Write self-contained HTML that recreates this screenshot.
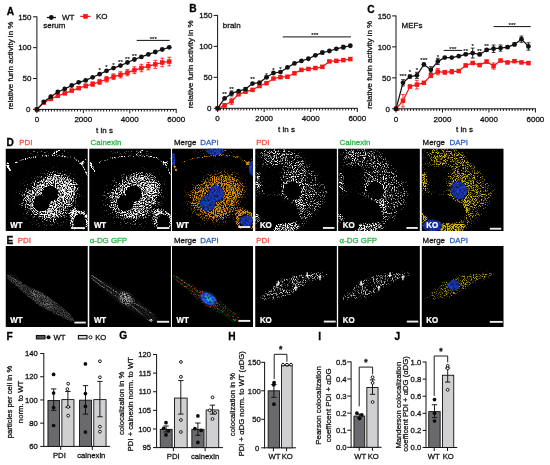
<!DOCTYPE html>
<html><head><meta charset="utf-8"><title>Figure</title>
<style>
html,body{margin:0;padding:0;background:#fff;}
svg{display:block;font-family:"Liberation Sans", Arial, sans-serif;}
</style></head><body>
<svg width="550" height="465" viewBox="0 0 550 465">
<rect width="550" height="465" fill="#fff"/>
<g>
<line x1="36.90" y1="16.40" x2="36.90" y2="109.90" stroke="#111" stroke-width="1"/>
<line x1="36.40" y1="109.40" x2="176.70" y2="109.40" stroke="#111" stroke-width="1"/>
<line x1="33.00" y1="109.40" x2="36.90" y2="109.40" stroke="#111" stroke-width="1"/>
<text x="30.40" y="112.20" font-size="8.0" text-anchor="end" fill="#111" stroke="#111" stroke-width="0.28">0</text>
<line x1="33.00" y1="78.53" x2="36.90" y2="78.53" stroke="#111" stroke-width="1"/>
<text x="31.50" y="81.33" font-size="8.0" text-anchor="end" fill="#111" stroke="#111" stroke-width="0.28">50</text>
<line x1="33.00" y1="47.67" x2="36.90" y2="47.67" stroke="#111" stroke-width="1"/>
<text x="31.50" y="50.47" font-size="8.0" text-anchor="end" fill="#111" stroke="#111" stroke-width="0.28">100</text>
<line x1="33.00" y1="16.80" x2="36.90" y2="16.80" stroke="#111" stroke-width="1"/>
<text x="31.50" y="19.60" font-size="8.0" text-anchor="end" fill="#111" stroke="#111" stroke-width="0.28">150</text>
<line x1="36.90" y1="109.40" x2="36.90" y2="113.10" stroke="#111" stroke-width="1"/>
<text x="36.90" y="122.10" font-size="8.0" text-anchor="middle" fill="#111" stroke="#111" stroke-width="0.28">0</text>
<line x1="39.80" y1="109.40" x2="39.80" y2="111.50" stroke="#111" stroke-width="0.95"/>
<line x1="42.70" y1="109.40" x2="42.70" y2="111.50" stroke="#111" stroke-width="0.95"/>
<line x1="45.61" y1="109.40" x2="45.61" y2="111.50" stroke="#111" stroke-width="0.95"/>
<line x1="48.51" y1="109.40" x2="48.51" y2="111.50" stroke="#111" stroke-width="0.95"/>
<line x1="51.41" y1="109.40" x2="51.41" y2="111.50" stroke="#111" stroke-width="0.95"/>
<line x1="54.31" y1="109.40" x2="54.31" y2="111.50" stroke="#111" stroke-width="0.95"/>
<line x1="57.21" y1="109.40" x2="57.21" y2="111.50" stroke="#111" stroke-width="0.95"/>
<line x1="60.12" y1="109.40" x2="60.12" y2="111.50" stroke="#111" stroke-width="0.95"/>
<line x1="63.02" y1="109.40" x2="63.02" y2="111.50" stroke="#111" stroke-width="0.95"/>
<line x1="65.92" y1="109.40" x2="65.92" y2="111.50" stroke="#111" stroke-width="0.95"/>
<line x1="68.82" y1="109.40" x2="68.82" y2="111.50" stroke="#111" stroke-width="0.95"/>
<line x1="71.72" y1="109.40" x2="71.72" y2="111.50" stroke="#111" stroke-width="0.95"/>
<line x1="74.63" y1="109.40" x2="74.63" y2="111.50" stroke="#111" stroke-width="0.95"/>
<line x1="77.53" y1="109.40" x2="77.53" y2="111.50" stroke="#111" stroke-width="0.95"/>
<line x1="80.43" y1="109.40" x2="80.43" y2="111.50" stroke="#111" stroke-width="0.95"/>
<line x1="83.33" y1="109.40" x2="83.33" y2="113.10" stroke="#111" stroke-width="1"/>
<text x="83.33" y="122.10" font-size="8.0" text-anchor="middle" fill="#111" stroke="#111" stroke-width="0.28">2000</text>
<line x1="86.24" y1="109.40" x2="86.24" y2="111.50" stroke="#111" stroke-width="0.95"/>
<line x1="89.14" y1="109.40" x2="89.14" y2="111.50" stroke="#111" stroke-width="0.95"/>
<line x1="92.04" y1="109.40" x2="92.04" y2="111.50" stroke="#111" stroke-width="0.95"/>
<line x1="94.94" y1="109.40" x2="94.94" y2="111.50" stroke="#111" stroke-width="0.95"/>
<line x1="97.84" y1="109.40" x2="97.84" y2="111.50" stroke="#111" stroke-width="0.95"/>
<line x1="100.75" y1="109.40" x2="100.75" y2="111.50" stroke="#111" stroke-width="0.95"/>
<line x1="103.65" y1="109.40" x2="103.65" y2="111.50" stroke="#111" stroke-width="0.95"/>
<line x1="106.55" y1="109.40" x2="106.55" y2="111.50" stroke="#111" stroke-width="0.95"/>
<line x1="109.45" y1="109.40" x2="109.45" y2="111.50" stroke="#111" stroke-width="0.95"/>
<line x1="112.35" y1="109.40" x2="112.35" y2="111.50" stroke="#111" stroke-width="0.95"/>
<line x1="115.26" y1="109.40" x2="115.26" y2="111.50" stroke="#111" stroke-width="0.95"/>
<line x1="118.16" y1="109.40" x2="118.16" y2="111.50" stroke="#111" stroke-width="0.95"/>
<line x1="121.06" y1="109.40" x2="121.06" y2="111.50" stroke="#111" stroke-width="0.95"/>
<line x1="123.96" y1="109.40" x2="123.96" y2="111.50" stroke="#111" stroke-width="0.95"/>
<line x1="126.86" y1="109.40" x2="126.86" y2="111.50" stroke="#111" stroke-width="0.95"/>
<line x1="129.77" y1="109.40" x2="129.77" y2="113.10" stroke="#111" stroke-width="1"/>
<text x="129.77" y="122.10" font-size="8.0" text-anchor="middle" fill="#111" stroke="#111" stroke-width="0.28">4000</text>
<line x1="132.67" y1="109.40" x2="132.67" y2="111.50" stroke="#111" stroke-width="0.95"/>
<line x1="135.57" y1="109.40" x2="135.57" y2="111.50" stroke="#111" stroke-width="0.95"/>
<line x1="138.47" y1="109.40" x2="138.47" y2="111.50" stroke="#111" stroke-width="0.95"/>
<line x1="141.37" y1="109.40" x2="141.37" y2="111.50" stroke="#111" stroke-width="0.95"/>
<line x1="144.28" y1="109.40" x2="144.28" y2="111.50" stroke="#111" stroke-width="0.95"/>
<line x1="147.18" y1="109.40" x2="147.18" y2="111.50" stroke="#111" stroke-width="0.95"/>
<line x1="150.08" y1="109.40" x2="150.08" y2="111.50" stroke="#111" stroke-width="0.95"/>
<line x1="152.98" y1="109.40" x2="152.98" y2="111.50" stroke="#111" stroke-width="0.95"/>
<line x1="155.89" y1="109.40" x2="155.89" y2="111.50" stroke="#111" stroke-width="0.95"/>
<line x1="158.79" y1="109.40" x2="158.79" y2="111.50" stroke="#111" stroke-width="0.95"/>
<line x1="161.69" y1="109.40" x2="161.69" y2="111.50" stroke="#111" stroke-width="0.95"/>
<line x1="164.59" y1="109.40" x2="164.59" y2="111.50" stroke="#111" stroke-width="0.95"/>
<line x1="167.49" y1="109.40" x2="167.49" y2="111.50" stroke="#111" stroke-width="0.95"/>
<line x1="170.40" y1="109.40" x2="170.40" y2="111.50" stroke="#111" stroke-width="0.95"/>
<line x1="173.30" y1="109.40" x2="173.30" y2="111.50" stroke="#111" stroke-width="0.95"/>
<line x1="176.20" y1="109.40" x2="176.20" y2="113.10" stroke="#111" stroke-width="1"/>
<text x="176.20" y="122.10" font-size="8.0" text-anchor="middle" fill="#111" stroke="#111" stroke-width="0.28">6000</text>
<text x="104.50" y="132.60" font-size="8.0" text-anchor="middle" fill="#111" stroke="#111" stroke-width="0.28">t in s</text>
<text x="12.60" y="65.60" font-size="8.0" text-anchor="middle" fill="#111" stroke="#111" stroke-width="0.28" transform="rotate(-90 12.60 65.60)">relative furin activity in %</text>
<text x="43.20" y="27.50" font-size="8.0" text-anchor="start" fill="#111" stroke="#111" stroke-width="0.28">serum</text>
<polyline points="36.90,109.40 43.86,102.61 50.83,98.91 57.79,95.82 64.76,93.35 71.72,90.57 78.69,88.10 85.66,85.94 92.62,84.09 99.58,81.87 106.55,79.27 113.51,76.68 120.48,74.83 127.44,72.67 134.41,70.20 141.37,68.04 148.34,66.19 155.30,64.33 162.27,62.48 169.23,61.56" fill="none" stroke="#f91616" stroke-width="1.25" stroke-linejoin="round"/>
<line x1="57.79" y1="96.44" x2="57.79" y2="95.20" stroke="#f91616" stroke-width="0.9"/>
<line x1="55.89" y1="96.44" x2="59.69" y2="96.44" stroke="#f91616" stroke-width="0.85"/>
<line x1="55.89" y1="95.20" x2="59.69" y2="95.20" stroke="#f91616" stroke-width="0.85"/>
<line x1="64.76" y1="94.28" x2="64.76" y2="92.42" stroke="#f91616" stroke-width="0.9"/>
<line x1="62.86" y1="94.28" x2="66.66" y2="94.28" stroke="#f91616" stroke-width="0.85"/>
<line x1="62.86" y1="92.42" x2="66.66" y2="92.42" stroke="#f91616" stroke-width="0.85"/>
<line x1="71.72" y1="91.81" x2="71.72" y2="89.34" stroke="#f91616" stroke-width="0.9"/>
<line x1="69.82" y1="91.81" x2="73.62" y2="91.81" stroke="#f91616" stroke-width="0.85"/>
<line x1="69.82" y1="89.34" x2="73.62" y2="89.34" stroke="#f91616" stroke-width="0.85"/>
<line x1="78.69" y1="89.65" x2="78.69" y2="86.56" stroke="#f91616" stroke-width="0.9"/>
<line x1="76.79" y1="89.65" x2="80.59" y2="89.65" stroke="#f91616" stroke-width="0.85"/>
<line x1="76.79" y1="86.56" x2="80.59" y2="86.56" stroke="#f91616" stroke-width="0.85"/>
<line x1="85.66" y1="87.79" x2="85.66" y2="84.09" stroke="#f91616" stroke-width="0.9"/>
<line x1="83.75" y1="87.79" x2="87.56" y2="87.79" stroke="#f91616" stroke-width="0.85"/>
<line x1="83.75" y1="84.09" x2="87.56" y2="84.09" stroke="#f91616" stroke-width="0.85"/>
<line x1="92.62" y1="86.25" x2="92.62" y2="81.93" stroke="#f91616" stroke-width="0.9"/>
<line x1="90.72" y1="86.25" x2="94.52" y2="86.25" stroke="#f91616" stroke-width="0.85"/>
<line x1="90.72" y1="81.93" x2="94.52" y2="81.93" stroke="#f91616" stroke-width="0.85"/>
<line x1="99.58" y1="84.34" x2="99.58" y2="79.40" stroke="#f91616" stroke-width="0.9"/>
<line x1="97.68" y1="84.34" x2="101.48" y2="84.34" stroke="#f91616" stroke-width="0.85"/>
<line x1="97.68" y1="79.40" x2="101.48" y2="79.40" stroke="#f91616" stroke-width="0.85"/>
<line x1="106.55" y1="82.05" x2="106.55" y2="76.50" stroke="#f91616" stroke-width="0.9"/>
<line x1="104.65" y1="82.05" x2="108.45" y2="82.05" stroke="#f91616" stroke-width="0.85"/>
<line x1="104.65" y1="76.50" x2="108.45" y2="76.50" stroke="#f91616" stroke-width="0.85"/>
<line x1="113.51" y1="79.46" x2="113.51" y2="73.90" stroke="#f91616" stroke-width="0.9"/>
<line x1="111.61" y1="79.46" x2="115.41" y2="79.46" stroke="#f91616" stroke-width="0.85"/>
<line x1="111.61" y1="73.90" x2="115.41" y2="73.90" stroke="#f91616" stroke-width="0.85"/>
<line x1="120.48" y1="77.92" x2="120.48" y2="71.74" stroke="#f91616" stroke-width="0.9"/>
<line x1="118.58" y1="77.92" x2="122.38" y2="77.92" stroke="#f91616" stroke-width="0.85"/>
<line x1="118.58" y1="71.74" x2="122.38" y2="71.74" stroke="#f91616" stroke-width="0.85"/>
<line x1="127.44" y1="75.76" x2="127.44" y2="69.58" stroke="#f91616" stroke-width="0.9"/>
<line x1="125.54" y1="75.76" x2="129.34" y2="75.76" stroke="#f91616" stroke-width="0.85"/>
<line x1="125.54" y1="69.58" x2="129.34" y2="69.58" stroke="#f91616" stroke-width="0.85"/>
<line x1="134.41" y1="73.59" x2="134.41" y2="66.80" stroke="#f91616" stroke-width="0.9"/>
<line x1="132.51" y1="73.59" x2="136.31" y2="73.59" stroke="#f91616" stroke-width="0.85"/>
<line x1="132.51" y1="66.80" x2="136.31" y2="66.80" stroke="#f91616" stroke-width="0.85"/>
<line x1="141.37" y1="71.74" x2="141.37" y2="64.33" stroke="#f91616" stroke-width="0.9"/>
<line x1="139.47" y1="71.74" x2="143.27" y2="71.74" stroke="#f91616" stroke-width="0.85"/>
<line x1="139.47" y1="64.33" x2="143.27" y2="64.33" stroke="#f91616" stroke-width="0.85"/>
<line x1="148.34" y1="69.89" x2="148.34" y2="62.48" stroke="#f91616" stroke-width="0.9"/>
<line x1="146.44" y1="69.89" x2="150.24" y2="69.89" stroke="#f91616" stroke-width="0.85"/>
<line x1="146.44" y1="62.48" x2="150.24" y2="62.48" stroke="#f91616" stroke-width="0.85"/>
<line x1="155.30" y1="68.35" x2="155.30" y2="60.32" stroke="#f91616" stroke-width="0.9"/>
<line x1="153.40" y1="68.35" x2="157.20" y2="68.35" stroke="#f91616" stroke-width="0.85"/>
<line x1="153.40" y1="60.32" x2="157.20" y2="60.32" stroke="#f91616" stroke-width="0.85"/>
<line x1="162.27" y1="66.80" x2="162.27" y2="58.16" stroke="#f91616" stroke-width="0.9"/>
<line x1="160.37" y1="66.80" x2="164.17" y2="66.80" stroke="#f91616" stroke-width="0.85"/>
<line x1="160.37" y1="58.16" x2="164.17" y2="58.16" stroke="#f91616" stroke-width="0.85"/>
<line x1="169.23" y1="65.88" x2="169.23" y2="57.24" stroke="#f91616" stroke-width="0.9"/>
<line x1="167.33" y1="65.88" x2="171.13" y2="65.88" stroke="#f91616" stroke-width="0.85"/>
<line x1="167.33" y1="57.24" x2="171.13" y2="57.24" stroke="#f91616" stroke-width="0.85"/>
<rect x="34.65" y="107.15" width="4.5" height="4.5" fill="#f91616"/>
<rect x="41.61" y="100.36" width="4.5" height="4.5" fill="#f91616"/>
<rect x="48.58" y="96.66" width="4.5" height="4.5" fill="#f91616"/>
<rect x="55.54" y="93.57" width="4.5" height="4.5" fill="#f91616"/>
<rect x="62.51" y="91.10" width="4.5" height="4.5" fill="#f91616"/>
<rect x="69.47" y="88.32" width="4.5" height="4.5" fill="#f91616"/>
<rect x="76.44" y="85.85" width="4.5" height="4.5" fill="#f91616"/>
<rect x="83.41" y="83.69" width="4.5" height="4.5" fill="#f91616"/>
<rect x="90.37" y="81.84" width="4.5" height="4.5" fill="#f91616"/>
<rect x="97.33" y="79.62" width="4.5" height="4.5" fill="#f91616"/>
<rect x="104.30" y="77.02" width="4.5" height="4.5" fill="#f91616"/>
<rect x="111.26" y="74.43" width="4.5" height="4.5" fill="#f91616"/>
<rect x="118.23" y="72.58" width="4.5" height="4.5" fill="#f91616"/>
<rect x="125.19" y="70.42" width="4.5" height="4.5" fill="#f91616"/>
<rect x="132.16" y="67.95" width="4.5" height="4.5" fill="#f91616"/>
<rect x="139.12" y="65.79" width="4.5" height="4.5" fill="#f91616"/>
<rect x="146.09" y="63.94" width="4.5" height="4.5" fill="#f91616"/>
<rect x="153.05" y="62.08" width="4.5" height="4.5" fill="#f91616"/>
<rect x="160.02" y="60.23" width="4.5" height="4.5" fill="#f91616"/>
<rect x="166.98" y="59.31" width="4.5" height="4.5" fill="#f91616"/>
<polyline points="36.90,109.40 43.86,101.87 50.83,96.68 57.79,91.99 64.76,88.90 71.72,85.51 78.69,82.36 85.66,80.39 92.62,77.30 99.58,74.21 106.55,70.82 113.51,68.04 120.48,65.57 127.44,62.48 134.41,59.52 141.37,56.93 148.34,54.46 155.30,51.99 162.27,49.52 169.23,47.36" fill="none" stroke="#111" stroke-width="1.25" stroke-linejoin="round"/>
<circle cx="36.90" cy="109.40" r="2.4" fill="#111"/>
<circle cx="43.86" cy="101.87" r="2.4" fill="#111"/>
<circle cx="50.83" cy="96.68" r="2.4" fill="#111"/>
<circle cx="57.79" cy="91.99" r="2.4" fill="#111"/>
<circle cx="64.76" cy="88.90" r="2.4" fill="#111"/>
<circle cx="71.72" cy="85.51" r="2.4" fill="#111"/>
<circle cx="78.69" cy="82.36" r="2.4" fill="#111"/>
<circle cx="85.66" cy="80.39" r="2.4" fill="#111"/>
<circle cx="92.62" cy="77.30" r="2.4" fill="#111"/>
<circle cx="99.58" cy="74.21" r="2.4" fill="#111"/>
<circle cx="106.55" cy="70.82" r="2.4" fill="#111"/>
<circle cx="113.51" cy="68.04" r="2.4" fill="#111"/>
<circle cx="120.48" cy="65.57" r="2.4" fill="#111"/>
<circle cx="127.44" cy="62.48" r="2.4" fill="#111"/>
<circle cx="134.41" cy="59.52" r="2.4" fill="#111"/>
<circle cx="141.37" cy="56.93" r="2.4" fill="#111"/>
<circle cx="148.34" cy="54.46" r="2.4" fill="#111"/>
<circle cx="155.30" cy="51.99" r="2.4" fill="#111"/>
<circle cx="162.27" cy="49.52" r="2.4" fill="#111"/>
<circle cx="169.23" cy="47.36" r="2.4" fill="#111"/>
<text x="99.58" y="72.47" font-size="6.1" text-anchor="middle" fill="#111" stroke="#111" stroke-width="0.15">*</text>
<text x="106.55" y="69.39" font-size="6.1" text-anchor="middle" fill="#111" stroke="#111" stroke-width="0.15">*</text>
<text x="113.51" y="66.92" font-size="6.1" text-anchor="middle" fill="#111" stroke="#111" stroke-width="0.15">*</text>
<text x="120.48" y="63.83" font-size="6.1" text-anchor="middle" fill="#111" stroke="#111" stroke-width="0.15">**</text>
<text x="127.44" y="60.74" font-size="6.1" text-anchor="middle" fill="#111" stroke="#111" stroke-width="0.15">**</text>
<text x="134.41" y="58.27" font-size="6.1" text-anchor="middle" fill="#111" stroke="#111" stroke-width="0.15">**</text>
<line x1="136.73" y1="40.40" x2="169.70" y2="40.40" stroke="#111" stroke-width="1"/>
<text x="153.22" y="40.50" font-size="6.1" text-anchor="middle" fill="#111" stroke="#111" stroke-width="0.15">***</text>
</g>
<line x1="46.80" y1="17.50" x2="56.00" y2="17.50" stroke="#111" stroke-width="1.25"/>
<circle cx="51.3" cy="17.5" r="2.4" fill="#111"/>
<text x="62.00" y="20.40" font-size="8.0" text-anchor="start" fill="#111" stroke="#111" stroke-width="0.28">WT</text>
<line x1="80.30" y1="16.40" x2="90.50" y2="16.40" stroke="#f91616" stroke-width="1.25"/>
<rect x="83.2" y="14.1" width="4.6" height="4.6" fill="#f91616"/>
<text x="96.00" y="19.00" font-size="8.0" text-anchor="start" fill="#111" stroke="#111" stroke-width="0.28">KO</text>
<g>
<line x1="217.60" y1="15.00" x2="217.60" y2="108.80" stroke="#111" stroke-width="1"/>
<line x1="217.10" y1="108.30" x2="357.80" y2="108.30" stroke="#111" stroke-width="1"/>
<line x1="213.70" y1="108.30" x2="217.60" y2="108.30" stroke="#111" stroke-width="1"/>
<text x="211.40" y="111.10" font-size="8.0" text-anchor="end" fill="#111" stroke="#111" stroke-width="0.28">0</text>
<line x1="213.70" y1="77.33" x2="217.60" y2="77.33" stroke="#111" stroke-width="1"/>
<text x="212.50" y="80.13" font-size="8.0" text-anchor="end" fill="#111" stroke="#111" stroke-width="0.28">50</text>
<line x1="213.70" y1="46.37" x2="217.60" y2="46.37" stroke="#111" stroke-width="1"/>
<text x="212.50" y="49.17" font-size="8.0" text-anchor="end" fill="#111" stroke="#111" stroke-width="0.28">100</text>
<line x1="213.70" y1="15.40" x2="217.60" y2="15.40" stroke="#111" stroke-width="1"/>
<text x="212.50" y="18.20" font-size="8.0" text-anchor="end" fill="#111" stroke="#111" stroke-width="0.28">150</text>
<line x1="217.60" y1="108.30" x2="217.60" y2="112.00" stroke="#111" stroke-width="1"/>
<text x="217.60" y="121.00" font-size="8.0" text-anchor="middle" fill="#111" stroke="#111" stroke-width="0.28">0</text>
<line x1="220.51" y1="108.30" x2="220.51" y2="110.40" stroke="#111" stroke-width="0.95"/>
<line x1="223.42" y1="108.30" x2="223.42" y2="110.40" stroke="#111" stroke-width="0.95"/>
<line x1="226.33" y1="108.30" x2="226.33" y2="110.40" stroke="#111" stroke-width="0.95"/>
<line x1="229.24" y1="108.30" x2="229.24" y2="110.40" stroke="#111" stroke-width="0.95"/>
<line x1="232.15" y1="108.30" x2="232.15" y2="110.40" stroke="#111" stroke-width="0.95"/>
<line x1="235.06" y1="108.30" x2="235.06" y2="110.40" stroke="#111" stroke-width="0.95"/>
<line x1="237.97" y1="108.30" x2="237.97" y2="110.40" stroke="#111" stroke-width="0.95"/>
<line x1="240.88" y1="108.30" x2="240.88" y2="110.40" stroke="#111" stroke-width="0.95"/>
<line x1="243.79" y1="108.30" x2="243.79" y2="110.40" stroke="#111" stroke-width="0.95"/>
<line x1="246.70" y1="108.30" x2="246.70" y2="110.40" stroke="#111" stroke-width="0.95"/>
<line x1="249.61" y1="108.30" x2="249.61" y2="110.40" stroke="#111" stroke-width="0.95"/>
<line x1="252.53" y1="108.30" x2="252.53" y2="110.40" stroke="#111" stroke-width="0.95"/>
<line x1="255.44" y1="108.30" x2="255.44" y2="110.40" stroke="#111" stroke-width="0.95"/>
<line x1="258.35" y1="108.30" x2="258.35" y2="110.40" stroke="#111" stroke-width="0.95"/>
<line x1="261.26" y1="108.30" x2="261.26" y2="110.40" stroke="#111" stroke-width="0.95"/>
<line x1="264.17" y1="108.30" x2="264.17" y2="112.00" stroke="#111" stroke-width="1"/>
<text x="264.17" y="121.00" font-size="8.0" text-anchor="middle" fill="#111" stroke="#111" stroke-width="0.28">2000</text>
<line x1="267.08" y1="108.30" x2="267.08" y2="110.40" stroke="#111" stroke-width="0.95"/>
<line x1="269.99" y1="108.30" x2="269.99" y2="110.40" stroke="#111" stroke-width="0.95"/>
<line x1="272.90" y1="108.30" x2="272.90" y2="110.40" stroke="#111" stroke-width="0.95"/>
<line x1="275.81" y1="108.30" x2="275.81" y2="110.40" stroke="#111" stroke-width="0.95"/>
<line x1="278.72" y1="108.30" x2="278.72" y2="110.40" stroke="#111" stroke-width="0.95"/>
<line x1="281.63" y1="108.30" x2="281.63" y2="110.40" stroke="#111" stroke-width="0.95"/>
<line x1="284.54" y1="108.30" x2="284.54" y2="110.40" stroke="#111" stroke-width="0.95"/>
<line x1="287.45" y1="108.30" x2="287.45" y2="110.40" stroke="#111" stroke-width="0.95"/>
<line x1="290.36" y1="108.30" x2="290.36" y2="110.40" stroke="#111" stroke-width="0.95"/>
<line x1="293.27" y1="108.30" x2="293.27" y2="110.40" stroke="#111" stroke-width="0.95"/>
<line x1="296.18" y1="108.30" x2="296.18" y2="110.40" stroke="#111" stroke-width="0.95"/>
<line x1="299.09" y1="108.30" x2="299.09" y2="110.40" stroke="#111" stroke-width="0.95"/>
<line x1="302.00" y1="108.30" x2="302.00" y2="110.40" stroke="#111" stroke-width="0.95"/>
<line x1="304.91" y1="108.30" x2="304.91" y2="110.40" stroke="#111" stroke-width="0.95"/>
<line x1="307.82" y1="108.30" x2="307.82" y2="110.40" stroke="#111" stroke-width="0.95"/>
<line x1="310.73" y1="108.30" x2="310.73" y2="112.00" stroke="#111" stroke-width="1"/>
<text x="310.73" y="121.00" font-size="8.0" text-anchor="middle" fill="#111" stroke="#111" stroke-width="0.28">4000</text>
<line x1="313.64" y1="108.30" x2="313.64" y2="110.40" stroke="#111" stroke-width="0.95"/>
<line x1="316.55" y1="108.30" x2="316.55" y2="110.40" stroke="#111" stroke-width="0.95"/>
<line x1="319.46" y1="108.30" x2="319.46" y2="110.40" stroke="#111" stroke-width="0.95"/>
<line x1="322.38" y1="108.30" x2="322.38" y2="110.40" stroke="#111" stroke-width="0.95"/>
<line x1="325.29" y1="108.30" x2="325.29" y2="110.40" stroke="#111" stroke-width="0.95"/>
<line x1="328.20" y1="108.30" x2="328.20" y2="110.40" stroke="#111" stroke-width="0.95"/>
<line x1="331.11" y1="108.30" x2="331.11" y2="110.40" stroke="#111" stroke-width="0.95"/>
<line x1="334.02" y1="108.30" x2="334.02" y2="110.40" stroke="#111" stroke-width="0.95"/>
<line x1="336.93" y1="108.30" x2="336.93" y2="110.40" stroke="#111" stroke-width="0.95"/>
<line x1="339.84" y1="108.30" x2="339.84" y2="110.40" stroke="#111" stroke-width="0.95"/>
<line x1="342.75" y1="108.30" x2="342.75" y2="110.40" stroke="#111" stroke-width="0.95"/>
<line x1="345.66" y1="108.30" x2="345.66" y2="110.40" stroke="#111" stroke-width="0.95"/>
<line x1="348.57" y1="108.30" x2="348.57" y2="110.40" stroke="#111" stroke-width="0.95"/>
<line x1="351.48" y1="108.30" x2="351.48" y2="110.40" stroke="#111" stroke-width="0.95"/>
<line x1="354.39" y1="108.30" x2="354.39" y2="110.40" stroke="#111" stroke-width="0.95"/>
<line x1="357.30" y1="108.30" x2="357.30" y2="112.00" stroke="#111" stroke-width="1"/>
<text x="357.30" y="121.00" font-size="8.0" text-anchor="middle" fill="#111" stroke="#111" stroke-width="0.28">6000</text>
<text x="286.50" y="131.50" font-size="8.0" text-anchor="middle" fill="#111" stroke="#111" stroke-width="0.28">t in s</text>
<text x="193.30" y="64.35" font-size="8.0" text-anchor="middle" fill="#111" stroke="#111" stroke-width="0.28" transform="rotate(-90 193.30 64.35)">relative furin activity in %</text>
<text x="222.80" y="27.50" font-size="8.0" text-anchor="start" fill="#111" stroke="#111" stroke-width="0.28">brain</text>
<polyline points="217.60,108.30 224.59,105.45 231.57,101.30 238.56,94.30 245.54,91.70 252.53,89.91 259.51,86.00 266.50,83.16 273.48,78.57 280.47,77.21 287.45,76.71 294.44,73.31 301.42,69.90 308.40,68.97 315.39,68.04 322.38,66.80 329.36,61.42 336.35,60.86 343.33,60.12 350.32,59.06" fill="none" stroke="#f91616" stroke-width="1.25" stroke-linejoin="round"/>
<line x1="224.59" y1="107.31" x2="224.59" y2="103.59" stroke="#f91616" stroke-width="0.9"/>
<line x1="222.69" y1="107.31" x2="226.49" y2="107.31" stroke="#f91616" stroke-width="0.85"/>
<line x1="222.69" y1="103.59" x2="226.49" y2="103.59" stroke="#f91616" stroke-width="0.85"/>
<line x1="231.57" y1="104.40" x2="231.57" y2="98.20" stroke="#f91616" stroke-width="0.9"/>
<line x1="229.67" y1="104.40" x2="233.47" y2="104.40" stroke="#f91616" stroke-width="0.85"/>
<line x1="229.67" y1="98.20" x2="233.47" y2="98.20" stroke="#f91616" stroke-width="0.85"/>
<rect x="215.35" y="106.05" width="4.5" height="4.5" fill="#f91616"/>
<rect x="222.34" y="103.20" width="4.5" height="4.5" fill="#f91616"/>
<rect x="229.32" y="99.05" width="4.5" height="4.5" fill="#f91616"/>
<rect x="236.31" y="92.05" width="4.5" height="4.5" fill="#f91616"/>
<rect x="243.29" y="89.45" width="4.5" height="4.5" fill="#f91616"/>
<rect x="250.28" y="87.66" width="4.5" height="4.5" fill="#f91616"/>
<rect x="257.26" y="83.75" width="4.5" height="4.5" fill="#f91616"/>
<rect x="264.25" y="80.91" width="4.5" height="4.5" fill="#f91616"/>
<rect x="271.23" y="76.32" width="4.5" height="4.5" fill="#f91616"/>
<rect x="278.22" y="74.96" width="4.5" height="4.5" fill="#f91616"/>
<rect x="285.20" y="74.46" width="4.5" height="4.5" fill="#f91616"/>
<rect x="292.19" y="71.06" width="4.5" height="4.5" fill="#f91616"/>
<rect x="299.17" y="67.65" width="4.5" height="4.5" fill="#f91616"/>
<rect x="306.15" y="66.72" width="4.5" height="4.5" fill="#f91616"/>
<rect x="313.14" y="65.79" width="4.5" height="4.5" fill="#f91616"/>
<rect x="320.12" y="64.55" width="4.5" height="4.5" fill="#f91616"/>
<rect x="327.11" y="59.17" width="4.5" height="4.5" fill="#f91616"/>
<rect x="334.10" y="58.61" width="4.5" height="4.5" fill="#f91616"/>
<rect x="341.08" y="57.87" width="4.5" height="4.5" fill="#f91616"/>
<rect x="348.07" y="56.81" width="4.5" height="4.5" fill="#f91616"/>
<polyline points="217.60,108.30 224.59,98.39 231.57,93.44 238.56,91.21 245.54,89.10 252.53,83.53 259.51,82.66 266.50,77.33 273.48,73.00 280.47,72.07 287.45,67.42 294.44,63.40 301.42,60.92 308.40,58.75 315.39,55.35 322.38,52.56 329.36,51.01 336.35,48.84 343.33,47.17 350.32,45.75" fill="none" stroke="#111" stroke-width="1.25" stroke-linejoin="round"/>
<line x1="231.57" y1="95.91" x2="231.57" y2="90.96" stroke="#111" stroke-width="0.9"/>
<line x1="229.67" y1="95.91" x2="233.47" y2="95.91" stroke="#111" stroke-width="0.85"/>
<line x1="229.67" y1="90.96" x2="233.47" y2="90.96" stroke="#111" stroke-width="0.85"/>
<line x1="245.54" y1="90.65" x2="245.54" y2="87.55" stroke="#111" stroke-width="0.9"/>
<line x1="243.64" y1="90.65" x2="247.44" y2="90.65" stroke="#111" stroke-width="0.85"/>
<line x1="243.64" y1="87.55" x2="247.44" y2="87.55" stroke="#111" stroke-width="0.85"/>
<line x1="266.50" y1="78.57" x2="266.50" y2="76.09" stroke="#111" stroke-width="0.9"/>
<line x1="264.60" y1="78.57" x2="268.39" y2="78.57" stroke="#111" stroke-width="0.85"/>
<line x1="264.60" y1="76.09" x2="268.39" y2="76.09" stroke="#111" stroke-width="0.85"/>
<line x1="322.38" y1="54.11" x2="322.38" y2="51.01" stroke="#111" stroke-width="0.9"/>
<line x1="320.48" y1="54.11" x2="324.27" y2="54.11" stroke="#111" stroke-width="0.85"/>
<line x1="320.48" y1="51.01" x2="324.27" y2="51.01" stroke="#111" stroke-width="0.85"/>
<line x1="343.33" y1="49.03" x2="343.33" y2="45.31" stroke="#111" stroke-width="0.9"/>
<line x1="341.43" y1="49.03" x2="345.23" y2="49.03" stroke="#111" stroke-width="0.85"/>
<line x1="341.43" y1="45.31" x2="345.23" y2="45.31" stroke="#111" stroke-width="0.85"/>
<circle cx="217.60" cy="108.30" r="2.4" fill="#111"/>
<circle cx="224.59" cy="98.39" r="2.4" fill="#111"/>
<circle cx="231.57" cy="93.44" r="2.4" fill="#111"/>
<circle cx="238.56" cy="91.21" r="2.4" fill="#111"/>
<circle cx="245.54" cy="89.10" r="2.4" fill="#111"/>
<circle cx="252.53" cy="83.53" r="2.4" fill="#111"/>
<circle cx="259.51" cy="82.66" r="2.4" fill="#111"/>
<circle cx="266.50" cy="77.33" r="2.4" fill="#111"/>
<circle cx="273.48" cy="73.00" r="2.4" fill="#111"/>
<circle cx="280.47" cy="72.07" r="2.4" fill="#111"/>
<circle cx="287.45" cy="67.42" r="2.4" fill="#111"/>
<circle cx="294.44" cy="63.40" r="2.4" fill="#111"/>
<circle cx="301.42" cy="60.92" r="2.4" fill="#111"/>
<circle cx="308.40" cy="58.75" r="2.4" fill="#111"/>
<circle cx="315.39" cy="55.35" r="2.4" fill="#111"/>
<circle cx="322.38" cy="52.56" r="2.4" fill="#111"/>
<circle cx="329.36" cy="51.01" r="2.4" fill="#111"/>
<circle cx="336.35" cy="48.84" r="2.4" fill="#111"/>
<circle cx="343.33" cy="47.17" r="2.4" fill="#111"/>
<circle cx="350.32" cy="45.75" r="2.4" fill="#111"/>
<text x="224.59" y="95.83" font-size="6.1" text-anchor="middle" fill="#111" stroke="#111" stroke-width="0.15">**</text>
<text x="231.57" y="91.06" font-size="6.1" text-anchor="middle" fill="#111" stroke="#111" stroke-width="0.15">**</text>
<text x="252.53" y="81.15" font-size="6.1" text-anchor="middle" fill="#111" stroke="#111" stroke-width="0.15">**</text>
<text x="266.50" y="76.82" font-size="6.1" text-anchor="middle" fill="#111" stroke="#111" stroke-width="0.15">*</text>
<text x="273.48" y="71.74" font-size="6.1" text-anchor="middle" fill="#111" stroke="#111" stroke-width="0.15">*</text>
<text x="280.47" y="70.75" font-size="6.1" text-anchor="middle" fill="#111" stroke="#111" stroke-width="0.15">*</text>
<line x1="282.79" y1="36.90" x2="351.01" y2="36.90" stroke="#111" stroke-width="1"/>
<text x="314.90" y="37.00" font-size="6.1" text-anchor="middle" fill="#111" stroke="#111" stroke-width="0.15">***</text>
</g>
<g>
<line x1="396.00" y1="15.50" x2="396.00" y2="109.30" stroke="#111" stroke-width="1"/>
<line x1="395.50" y1="108.80" x2="535.90" y2="108.80" stroke="#111" stroke-width="1"/>
<line x1="392.10" y1="108.80" x2="396.00" y2="108.80" stroke="#111" stroke-width="1"/>
<text x="389.90" y="111.60" font-size="8.0" text-anchor="end" fill="#111" stroke="#111" stroke-width="0.28">0</text>
<line x1="392.10" y1="77.83" x2="396.00" y2="77.83" stroke="#111" stroke-width="1"/>
<text x="391.00" y="80.63" font-size="8.0" text-anchor="end" fill="#111" stroke="#111" stroke-width="0.28">50</text>
<line x1="392.10" y1="46.87" x2="396.00" y2="46.87" stroke="#111" stroke-width="1"/>
<text x="391.00" y="49.67" font-size="8.0" text-anchor="end" fill="#111" stroke="#111" stroke-width="0.28">100</text>
<line x1="392.10" y1="15.90" x2="396.00" y2="15.90" stroke="#111" stroke-width="1"/>
<text x="391.00" y="18.70" font-size="8.0" text-anchor="end" fill="#111" stroke="#111" stroke-width="0.28">150</text>
<line x1="396.00" y1="108.80" x2="396.00" y2="112.50" stroke="#111" stroke-width="1"/>
<text x="396.00" y="121.50" font-size="8.0" text-anchor="middle" fill="#111" stroke="#111" stroke-width="0.28">0</text>
<line x1="398.90" y1="108.80" x2="398.90" y2="110.90" stroke="#111" stroke-width="0.95"/>
<line x1="401.81" y1="108.80" x2="401.81" y2="110.90" stroke="#111" stroke-width="0.95"/>
<line x1="404.71" y1="108.80" x2="404.71" y2="110.90" stroke="#111" stroke-width="0.95"/>
<line x1="407.62" y1="108.80" x2="407.62" y2="110.90" stroke="#111" stroke-width="0.95"/>
<line x1="410.52" y1="108.80" x2="410.52" y2="110.90" stroke="#111" stroke-width="0.95"/>
<line x1="413.43" y1="108.80" x2="413.43" y2="110.90" stroke="#111" stroke-width="0.95"/>
<line x1="416.33" y1="108.80" x2="416.33" y2="110.90" stroke="#111" stroke-width="0.95"/>
<line x1="419.23" y1="108.80" x2="419.23" y2="110.90" stroke="#111" stroke-width="0.95"/>
<line x1="422.14" y1="108.80" x2="422.14" y2="110.90" stroke="#111" stroke-width="0.95"/>
<line x1="425.04" y1="108.80" x2="425.04" y2="110.90" stroke="#111" stroke-width="0.95"/>
<line x1="427.95" y1="108.80" x2="427.95" y2="110.90" stroke="#111" stroke-width="0.95"/>
<line x1="430.85" y1="108.80" x2="430.85" y2="110.90" stroke="#111" stroke-width="0.95"/>
<line x1="433.75" y1="108.80" x2="433.75" y2="110.90" stroke="#111" stroke-width="0.95"/>
<line x1="436.66" y1="108.80" x2="436.66" y2="110.90" stroke="#111" stroke-width="0.95"/>
<line x1="439.56" y1="108.80" x2="439.56" y2="110.90" stroke="#111" stroke-width="0.95"/>
<line x1="442.47" y1="108.80" x2="442.47" y2="112.50" stroke="#111" stroke-width="1"/>
<text x="442.47" y="121.50" font-size="8.0" text-anchor="middle" fill="#111" stroke="#111" stroke-width="0.28">2000</text>
<line x1="445.37" y1="108.80" x2="445.37" y2="110.90" stroke="#111" stroke-width="0.95"/>
<line x1="448.27" y1="108.80" x2="448.27" y2="110.90" stroke="#111" stroke-width="0.95"/>
<line x1="451.18" y1="108.80" x2="451.18" y2="110.90" stroke="#111" stroke-width="0.95"/>
<line x1="454.08" y1="108.80" x2="454.08" y2="110.90" stroke="#111" stroke-width="0.95"/>
<line x1="456.99" y1="108.80" x2="456.99" y2="110.90" stroke="#111" stroke-width="0.95"/>
<line x1="459.89" y1="108.80" x2="459.89" y2="110.90" stroke="#111" stroke-width="0.95"/>
<line x1="462.80" y1="108.80" x2="462.80" y2="110.90" stroke="#111" stroke-width="0.95"/>
<line x1="465.70" y1="108.80" x2="465.70" y2="110.90" stroke="#111" stroke-width="0.95"/>
<line x1="468.60" y1="108.80" x2="468.60" y2="110.90" stroke="#111" stroke-width="0.95"/>
<line x1="471.51" y1="108.80" x2="471.51" y2="110.90" stroke="#111" stroke-width="0.95"/>
<line x1="474.41" y1="108.80" x2="474.41" y2="110.90" stroke="#111" stroke-width="0.95"/>
<line x1="477.32" y1="108.80" x2="477.32" y2="110.90" stroke="#111" stroke-width="0.95"/>
<line x1="480.22" y1="108.80" x2="480.22" y2="110.90" stroke="#111" stroke-width="0.95"/>
<line x1="483.12" y1="108.80" x2="483.12" y2="110.90" stroke="#111" stroke-width="0.95"/>
<line x1="486.03" y1="108.80" x2="486.03" y2="110.90" stroke="#111" stroke-width="0.95"/>
<line x1="488.93" y1="108.80" x2="488.93" y2="112.50" stroke="#111" stroke-width="1"/>
<text x="488.93" y="121.50" font-size="8.0" text-anchor="middle" fill="#111" stroke="#111" stroke-width="0.28">4000</text>
<line x1="491.84" y1="108.80" x2="491.84" y2="110.90" stroke="#111" stroke-width="0.95"/>
<line x1="494.74" y1="108.80" x2="494.74" y2="110.90" stroke="#111" stroke-width="0.95"/>
<line x1="497.65" y1="108.80" x2="497.65" y2="110.90" stroke="#111" stroke-width="0.95"/>
<line x1="500.55" y1="108.80" x2="500.55" y2="110.90" stroke="#111" stroke-width="0.95"/>
<line x1="503.45" y1="108.80" x2="503.45" y2="110.90" stroke="#111" stroke-width="0.95"/>
<line x1="506.36" y1="108.80" x2="506.36" y2="110.90" stroke="#111" stroke-width="0.95"/>
<line x1="509.26" y1="108.80" x2="509.26" y2="110.90" stroke="#111" stroke-width="0.95"/>
<line x1="512.17" y1="108.80" x2="512.17" y2="110.90" stroke="#111" stroke-width="0.95"/>
<line x1="515.07" y1="108.80" x2="515.07" y2="110.90" stroke="#111" stroke-width="0.95"/>
<line x1="517.97" y1="108.80" x2="517.97" y2="110.90" stroke="#111" stroke-width="0.95"/>
<line x1="520.88" y1="108.80" x2="520.88" y2="110.90" stroke="#111" stroke-width="0.95"/>
<line x1="523.78" y1="108.80" x2="523.78" y2="110.90" stroke="#111" stroke-width="0.95"/>
<line x1="526.69" y1="108.80" x2="526.69" y2="110.90" stroke="#111" stroke-width="0.95"/>
<line x1="529.59" y1="108.80" x2="529.59" y2="110.90" stroke="#111" stroke-width="0.95"/>
<line x1="532.50" y1="108.80" x2="532.50" y2="110.90" stroke="#111" stroke-width="0.95"/>
<line x1="535.40" y1="108.80" x2="535.40" y2="112.50" stroke="#111" stroke-width="1"/>
<text x="535.40" y="121.50" font-size="8.0" text-anchor="middle" fill="#111" stroke="#111" stroke-width="0.28">6000</text>
<text x="464.50" y="132.00" font-size="8.0" text-anchor="middle" fill="#111" stroke="#111" stroke-width="0.28">t in s</text>
<text x="371.80" y="64.85" font-size="8.0" text-anchor="middle" fill="#111" stroke="#111" stroke-width="0.28" transform="rotate(-90 371.80 64.85)">relative furin activity in %</text>
<text x="401.60" y="27.50" font-size="8.0" text-anchor="start" fill="#111" stroke="#111" stroke-width="0.28">MEFs</text>
<polyline points="396.00,108.80 402.97,100.75 409.94,86.50 416.91,84.65 423.88,82.79 430.85,75.67 437.82,71.64 444.79,72.26 451.76,71.64 458.73,71.02 465.70,65.45 472.67,62.97 479.64,65.08 486.61,61.61 493.58,66.07 500.55,60.55 507.52,62.47 514.49,61.17 521.46,62.41 528.43,63.09" fill="none" stroke="#f91616" stroke-width="1.25" stroke-linejoin="round"/>
<line x1="402.97" y1="106.94" x2="402.97" y2="94.56" stroke="#f91616" stroke-width="0.9"/>
<line x1="401.07" y1="106.94" x2="404.87" y2="106.94" stroke="#f91616" stroke-width="0.85"/>
<line x1="401.07" y1="94.56" x2="404.87" y2="94.56" stroke="#f91616" stroke-width="0.85"/>
<line x1="409.94" y1="87.74" x2="409.94" y2="85.27" stroke="#f91616" stroke-width="0.9"/>
<line x1="408.04" y1="87.74" x2="411.84" y2="87.74" stroke="#f91616" stroke-width="0.85"/>
<line x1="408.04" y1="85.27" x2="411.84" y2="85.27" stroke="#f91616" stroke-width="0.85"/>
<line x1="416.91" y1="88.98" x2="416.91" y2="80.31" stroke="#f91616" stroke-width="0.9"/>
<line x1="415.01" y1="88.98" x2="418.81" y2="88.98" stroke="#f91616" stroke-width="0.85"/>
<line x1="415.01" y1="80.31" x2="418.81" y2="80.31" stroke="#f91616" stroke-width="0.85"/>
<line x1="423.88" y1="84.03" x2="423.88" y2="81.55" stroke="#f91616" stroke-width="0.9"/>
<line x1="421.98" y1="84.03" x2="425.78" y2="84.03" stroke="#f91616" stroke-width="0.85"/>
<line x1="421.98" y1="81.55" x2="425.78" y2="81.55" stroke="#f91616" stroke-width="0.85"/>
<line x1="430.85" y1="77.52" x2="430.85" y2="73.81" stroke="#f91616" stroke-width="0.9"/>
<line x1="428.95" y1="77.52" x2="432.75" y2="77.52" stroke="#f91616" stroke-width="0.85"/>
<line x1="428.95" y1="73.81" x2="432.75" y2="73.81" stroke="#f91616" stroke-width="0.85"/>
<line x1="437.82" y1="74.74" x2="437.82" y2="68.54" stroke="#f91616" stroke-width="0.9"/>
<line x1="435.92" y1="74.74" x2="439.72" y2="74.74" stroke="#f91616" stroke-width="0.85"/>
<line x1="435.92" y1="68.54" x2="439.72" y2="68.54" stroke="#f91616" stroke-width="0.85"/>
<line x1="444.79" y1="74.12" x2="444.79" y2="70.40" stroke="#f91616" stroke-width="0.9"/>
<line x1="442.89" y1="74.12" x2="446.69" y2="74.12" stroke="#f91616" stroke-width="0.85"/>
<line x1="442.89" y1="70.40" x2="446.69" y2="70.40" stroke="#f91616" stroke-width="0.85"/>
<line x1="451.76" y1="73.81" x2="451.76" y2="69.47" stroke="#f91616" stroke-width="0.9"/>
<line x1="449.86" y1="73.81" x2="453.66" y2="73.81" stroke="#f91616" stroke-width="0.85"/>
<line x1="449.86" y1="69.47" x2="453.66" y2="69.47" stroke="#f91616" stroke-width="0.85"/>
<line x1="458.73" y1="72.26" x2="458.73" y2="69.78" stroke="#f91616" stroke-width="0.9"/>
<line x1="456.83" y1="72.26" x2="460.63" y2="72.26" stroke="#f91616" stroke-width="0.85"/>
<line x1="456.83" y1="69.78" x2="460.63" y2="69.78" stroke="#f91616" stroke-width="0.85"/>
<line x1="465.70" y1="66.69" x2="465.70" y2="64.21" stroke="#f91616" stroke-width="0.9"/>
<line x1="463.80" y1="66.69" x2="467.60" y2="66.69" stroke="#f91616" stroke-width="0.85"/>
<line x1="463.80" y1="64.21" x2="467.60" y2="64.21" stroke="#f91616" stroke-width="0.85"/>
<line x1="472.67" y1="64.21" x2="472.67" y2="61.73" stroke="#f91616" stroke-width="0.9"/>
<line x1="470.77" y1="64.21" x2="474.57" y2="64.21" stroke="#f91616" stroke-width="0.85"/>
<line x1="470.77" y1="61.73" x2="474.57" y2="61.73" stroke="#f91616" stroke-width="0.85"/>
<line x1="479.64" y1="66.31" x2="479.64" y2="63.84" stroke="#f91616" stroke-width="0.9"/>
<line x1="477.74" y1="66.31" x2="481.54" y2="66.31" stroke="#f91616" stroke-width="0.85"/>
<line x1="477.74" y1="63.84" x2="481.54" y2="63.84" stroke="#f91616" stroke-width="0.85"/>
<line x1="486.61" y1="63.16" x2="486.61" y2="60.06" stroke="#f91616" stroke-width="0.9"/>
<line x1="484.71" y1="63.16" x2="488.51" y2="63.16" stroke="#f91616" stroke-width="0.85"/>
<line x1="484.71" y1="60.06" x2="488.51" y2="60.06" stroke="#f91616" stroke-width="0.85"/>
<line x1="493.58" y1="69.16" x2="493.58" y2="62.97" stroke="#f91616" stroke-width="0.9"/>
<line x1="491.68" y1="69.16" x2="495.48" y2="69.16" stroke="#f91616" stroke-width="0.85"/>
<line x1="491.68" y1="62.97" x2="495.48" y2="62.97" stroke="#f91616" stroke-width="0.85"/>
<line x1="500.55" y1="61.79" x2="500.55" y2="59.32" stroke="#f91616" stroke-width="0.9"/>
<line x1="498.65" y1="61.79" x2="502.45" y2="61.79" stroke="#f91616" stroke-width="0.85"/>
<line x1="498.65" y1="59.32" x2="502.45" y2="59.32" stroke="#f91616" stroke-width="0.85"/>
<line x1="507.52" y1="63.71" x2="507.52" y2="61.24" stroke="#f91616" stroke-width="0.9"/>
<line x1="505.62" y1="63.71" x2="509.42" y2="63.71" stroke="#f91616" stroke-width="0.85"/>
<line x1="505.62" y1="61.24" x2="509.42" y2="61.24" stroke="#f91616" stroke-width="0.85"/>
<line x1="514.49" y1="62.41" x2="514.49" y2="59.93" stroke="#f91616" stroke-width="0.9"/>
<line x1="512.59" y1="62.41" x2="516.39" y2="62.41" stroke="#f91616" stroke-width="0.85"/>
<line x1="512.59" y1="59.93" x2="516.39" y2="59.93" stroke="#f91616" stroke-width="0.85"/>
<line x1="521.46" y1="63.65" x2="521.46" y2="61.17" stroke="#f91616" stroke-width="0.9"/>
<line x1="519.56" y1="63.65" x2="523.36" y2="63.65" stroke="#f91616" stroke-width="0.85"/>
<line x1="519.56" y1="61.17" x2="523.36" y2="61.17" stroke="#f91616" stroke-width="0.85"/>
<line x1="528.43" y1="64.33" x2="528.43" y2="61.85" stroke="#f91616" stroke-width="0.9"/>
<line x1="526.53" y1="64.33" x2="530.33" y2="64.33" stroke="#f91616" stroke-width="0.85"/>
<line x1="526.53" y1="61.85" x2="530.33" y2="61.85" stroke="#f91616" stroke-width="0.85"/>
<rect x="393.75" y="106.55" width="4.5" height="4.5" fill="#f91616"/>
<rect x="400.72" y="98.50" width="4.5" height="4.5" fill="#f91616"/>
<rect x="407.69" y="84.25" width="4.5" height="4.5" fill="#f91616"/>
<rect x="414.66" y="82.40" width="4.5" height="4.5" fill="#f91616"/>
<rect x="421.63" y="80.54" width="4.5" height="4.5" fill="#f91616"/>
<rect x="428.60" y="73.42" width="4.5" height="4.5" fill="#f91616"/>
<rect x="435.57" y="69.39" width="4.5" height="4.5" fill="#f91616"/>
<rect x="442.54" y="70.01" width="4.5" height="4.5" fill="#f91616"/>
<rect x="449.51" y="69.39" width="4.5" height="4.5" fill="#f91616"/>
<rect x="456.48" y="68.77" width="4.5" height="4.5" fill="#f91616"/>
<rect x="463.45" y="63.20" width="4.5" height="4.5" fill="#f91616"/>
<rect x="470.42" y="60.72" width="4.5" height="4.5" fill="#f91616"/>
<rect x="477.39" y="62.83" width="4.5" height="4.5" fill="#f91616"/>
<rect x="484.36" y="59.36" width="4.5" height="4.5" fill="#f91616"/>
<rect x="491.33" y="63.82" width="4.5" height="4.5" fill="#f91616"/>
<rect x="498.30" y="58.30" width="4.5" height="4.5" fill="#f91616"/>
<rect x="505.27" y="60.22" width="4.5" height="4.5" fill="#f91616"/>
<rect x="512.24" y="58.92" width="4.5" height="4.5" fill="#f91616"/>
<rect x="519.21" y="60.16" width="4.5" height="4.5" fill="#f91616"/>
<rect x="526.18" y="60.84" width="4.5" height="4.5" fill="#f91616"/>
<polyline points="396.00,108.80 402.97,82.79 409.94,76.59 416.91,75.36 423.88,64.52 430.85,69.78 437.82,61.42 444.79,57.58 451.76,57.58 458.73,56.16 465.70,54.30 472.67,53.06 479.64,54.42 486.61,49.96 493.58,48.72 500.55,48.11 507.52,47.18 514.49,44.39 521.46,39.19 528.43,46.43" fill="none" stroke="#111" stroke-width="1.25" stroke-linejoin="round"/>
<line x1="402.97" y1="85.88" x2="402.97" y2="79.69" stroke="#111" stroke-width="0.9"/>
<line x1="401.07" y1="85.88" x2="404.87" y2="85.88" stroke="#111" stroke-width="0.85"/>
<line x1="401.07" y1="79.69" x2="404.87" y2="79.69" stroke="#111" stroke-width="0.85"/>
<line x1="409.94" y1="78.14" x2="409.94" y2="75.05" stroke="#111" stroke-width="0.9"/>
<line x1="408.04" y1="78.14" x2="411.84" y2="78.14" stroke="#111" stroke-width="0.85"/>
<line x1="408.04" y1="75.05" x2="411.84" y2="75.05" stroke="#111" stroke-width="0.85"/>
<line x1="416.91" y1="78.45" x2="416.91" y2="72.26" stroke="#111" stroke-width="0.9"/>
<line x1="415.01" y1="78.45" x2="418.81" y2="78.45" stroke="#111" stroke-width="0.85"/>
<line x1="415.01" y1="72.26" x2="418.81" y2="72.26" stroke="#111" stroke-width="0.85"/>
<line x1="430.85" y1="72.88" x2="430.85" y2="66.69" stroke="#111" stroke-width="0.9"/>
<line x1="428.95" y1="72.88" x2="432.75" y2="72.88" stroke="#111" stroke-width="0.85"/>
<line x1="428.95" y1="66.69" x2="432.75" y2="66.69" stroke="#111" stroke-width="0.85"/>
<line x1="437.82" y1="64.52" x2="437.82" y2="58.32" stroke="#111" stroke-width="0.9"/>
<line x1="435.92" y1="64.52" x2="439.72" y2="64.52" stroke="#111" stroke-width="0.85"/>
<line x1="435.92" y1="58.32" x2="439.72" y2="58.32" stroke="#111" stroke-width="0.85"/>
<line x1="465.70" y1="55.54" x2="465.70" y2="53.06" stroke="#111" stroke-width="0.9"/>
<line x1="463.80" y1="55.54" x2="467.60" y2="55.54" stroke="#111" stroke-width="0.85"/>
<line x1="463.80" y1="53.06" x2="467.60" y2="53.06" stroke="#111" stroke-width="0.85"/>
<line x1="472.67" y1="58.01" x2="472.67" y2="48.11" stroke="#111" stroke-width="0.9"/>
<line x1="470.77" y1="58.01" x2="474.57" y2="58.01" stroke="#111" stroke-width="0.85"/>
<line x1="470.77" y1="48.11" x2="474.57" y2="48.11" stroke="#111" stroke-width="0.85"/>
<line x1="479.64" y1="55.66" x2="479.64" y2="53.18" stroke="#111" stroke-width="0.9"/>
<line x1="477.74" y1="55.66" x2="481.54" y2="55.66" stroke="#111" stroke-width="0.85"/>
<line x1="477.74" y1="53.18" x2="481.54" y2="53.18" stroke="#111" stroke-width="0.85"/>
<line x1="486.61" y1="51.20" x2="486.61" y2="48.72" stroke="#111" stroke-width="0.9"/>
<line x1="484.71" y1="51.20" x2="488.51" y2="51.20" stroke="#111" stroke-width="0.85"/>
<line x1="484.71" y1="48.72" x2="488.51" y2="48.72" stroke="#111" stroke-width="0.85"/>
<line x1="493.58" y1="52.44" x2="493.58" y2="45.01" stroke="#111" stroke-width="0.9"/>
<line x1="491.68" y1="52.44" x2="495.48" y2="52.44" stroke="#111" stroke-width="0.85"/>
<line x1="491.68" y1="45.01" x2="495.48" y2="45.01" stroke="#111" stroke-width="0.85"/>
<line x1="500.55" y1="51.20" x2="500.55" y2="45.01" stroke="#111" stroke-width="0.9"/>
<line x1="498.65" y1="51.20" x2="502.45" y2="51.20" stroke="#111" stroke-width="0.85"/>
<line x1="498.65" y1="45.01" x2="502.45" y2="45.01" stroke="#111" stroke-width="0.85"/>
<line x1="507.52" y1="48.41" x2="507.52" y2="45.94" stroke="#111" stroke-width="0.9"/>
<line x1="505.62" y1="48.41" x2="509.42" y2="48.41" stroke="#111" stroke-width="0.85"/>
<line x1="505.62" y1="45.94" x2="509.42" y2="45.94" stroke="#111" stroke-width="0.85"/>
<line x1="514.49" y1="45.94" x2="514.49" y2="42.84" stroke="#111" stroke-width="0.9"/>
<line x1="512.59" y1="45.94" x2="516.39" y2="45.94" stroke="#111" stroke-width="0.85"/>
<line x1="512.59" y1="42.84" x2="516.39" y2="42.84" stroke="#111" stroke-width="0.85"/>
<line x1="521.46" y1="42.28" x2="521.46" y2="36.09" stroke="#111" stroke-width="0.9"/>
<line x1="519.56" y1="42.28" x2="523.36" y2="42.28" stroke="#111" stroke-width="0.85"/>
<line x1="519.56" y1="36.09" x2="523.36" y2="36.09" stroke="#111" stroke-width="0.85"/>
<line x1="528.43" y1="50.15" x2="528.43" y2="42.72" stroke="#111" stroke-width="0.9"/>
<line x1="526.53" y1="50.15" x2="530.33" y2="50.15" stroke="#111" stroke-width="0.85"/>
<line x1="526.53" y1="42.72" x2="530.33" y2="42.72" stroke="#111" stroke-width="0.85"/>
<circle cx="396.00" cy="108.80" r="2.4" fill="#111"/>
<circle cx="402.97" cy="82.79" r="2.4" fill="#111"/>
<circle cx="409.94" cy="76.59" r="2.4" fill="#111"/>
<circle cx="416.91" cy="75.36" r="2.4" fill="#111"/>
<circle cx="423.88" cy="64.52" r="2.4" fill="#111"/>
<circle cx="430.85" cy="69.78" r="2.4" fill="#111"/>
<circle cx="437.82" cy="61.42" r="2.4" fill="#111"/>
<circle cx="444.79" cy="57.58" r="2.4" fill="#111"/>
<circle cx="451.76" cy="57.58" r="2.4" fill="#111"/>
<circle cx="458.73" cy="56.16" r="2.4" fill="#111"/>
<circle cx="465.70" cy="54.30" r="2.4" fill="#111"/>
<circle cx="472.67" cy="53.06" r="2.4" fill="#111"/>
<circle cx="479.64" cy="54.42" r="2.4" fill="#111"/>
<circle cx="486.61" cy="49.96" r="2.4" fill="#111"/>
<circle cx="493.58" cy="48.72" r="2.4" fill="#111"/>
<circle cx="500.55" cy="48.11" r="2.4" fill="#111"/>
<circle cx="507.52" cy="47.18" r="2.4" fill="#111"/>
<circle cx="514.49" cy="44.39" r="2.4" fill="#111"/>
<circle cx="521.46" cy="39.19" r="2.4" fill="#111"/>
<circle cx="528.43" cy="46.43" r="2.4" fill="#111"/>
<text x="402.97" y="78.25" font-size="6.1" text-anchor="middle" fill="#111" stroke="#111" stroke-width="0.15">***</text>
<text x="409.94" y="74.22" font-size="6.1" text-anchor="middle" fill="#111" stroke="#111" stroke-width="0.15">*</text>
<text x="416.91" y="72.36" font-size="6.1" text-anchor="middle" fill="#111" stroke="#111" stroke-width="0.15">*</text>
<text x="423.88" y="62.14" font-size="6.1" text-anchor="middle" fill="#111" stroke="#111" stroke-width="0.15">***</text>
<text x="437.82" y="58.74" font-size="6.1" text-anchor="middle" fill="#111" stroke="#111" stroke-width="0.15">*</text>
<text x="465.70" y="52.85" font-size="6.1" text-anchor="middle" fill="#111" stroke="#111" stroke-width="0.15">**</text>
<text x="472.67" y="47.59" font-size="6.1" text-anchor="middle" fill="#111" stroke="#111" stroke-width="0.15">*</text>
<text x="479.64" y="52.85" font-size="6.1" text-anchor="middle" fill="#111" stroke="#111" stroke-width="0.15">**</text>
<text x="486.61" y="48.33" font-size="6.1" text-anchor="middle" fill="#111" stroke="#111" stroke-width="0.15">**</text>
<line x1="443.63" y1="50.40" x2="462.21" y2="50.40" stroke="#111" stroke-width="1"/>
<text x="452.92" y="50.50" font-size="6.1" text-anchor="middle" fill="#111" stroke="#111" stroke-width="0.15">***</text>
<line x1="493.58" y1="26.60" x2="530.75" y2="26.60" stroke="#111" stroke-width="1"/>
<text x="512.17" y="26.70" font-size="6.1" text-anchor="middle" fill="#111" stroke="#111" stroke-width="0.15">***</text>
</g>
<text x="6.80" y="14.50" font-size="10.2" text-anchor="start" font-weight="bold" fill="#000" stroke="#000" stroke-width="0.3">A</text>
<text x="189.30" y="12.30" font-size="10.2" text-anchor="start" font-weight="bold" fill="#000" stroke="#000" stroke-width="0.3">B</text>
<text x="367.20" y="12.50" font-size="10.2" text-anchor="start" font-weight="bold" fill="#000" stroke="#000" stroke-width="0.3">C</text>
<defs>
<filter id="b1" x="-50%" y="-50%" width="200%" height="200%"><feGaussianBlur stdDeviation="1"/></filter>
<filter id="b2" x="-50%" y="-50%" width="200%" height="200%"><feGaussianBlur stdDeviation="2.2"/></filter>
<filter id="b4" x="-50%" y="-50%" width="200%" height="200%"><feGaussianBlur stdDeviation="4"/></filter>
<filter id="b05" x="-50%" y="-50%" width="200%" height="200%"><feGaussianBlur stdDeviation="0.5"/></filter>
<filter id="nuc" x="-5%" y="-5%" width="110%" height="110%" color-interpolation-filters="sRGB"><feTurbulence type="fractalNoise" baseFrequency="0.45" numOctaves="2" seed="9" result="n"/><feColorMatrix in="n" type="matrix" values="2.2 0 0 0 -0.6  2.2 0 0 0 -0.6  2.2 0 0 0 -0.6  0 0 0 0 1" result="ng"/><feComposite in="SourceGraphic" in2="ng" operator="arithmetic" k1="0.9" k2="0.6" k3="0" k4="0"/></filter>
</defs>
<clipPath id="cl1"><rect x="5.80" y="148.80" width="81.80" height="82.20"/></clipPath>
<filter id="sp1" filterUnits="userSpaceOnUse" x="5.80" y="148.80" width="81.80" height="82.20" color-interpolation-filters="sRGB"><feTurbulence type="fractalNoise" baseFrequency="0.9" numOctaves="2" seed="3" result="n"/><feColorMatrix in="n" type="matrix" values="2.5 0 0 0 -0.75  2.5 0 0 0 -0.75  2.5 0 0 0 -0.75  0 0 0 0 1" result="ng"/><feComposite in="SourceGraphic" in2="ng" operator="arithmetic" k1="0" k2="2.0" k3="2.0" k4="-2.0" result="t"/><feColorMatrix in="t" type="matrix" values="1 0 0 0 0  1 0 0 0 0  1 0 0 0 0  0 0 0 0 1" result="c"/><feGaussianBlur in="c" stdDeviation="0.4"/></filter>
<g clip-path="url(#cl1)">
<rect x="5.80" y="148.80" width="81.80" height="82.20" fill="#000"/>
<g filter="url(#sp1)"><g transform="translate(5.80 148.80)">
<rect x="-5" y="-5" width="91.80" height="92.20" fill="#000"/>
<polygon points="16.00,34.00 46.00,22.00 70.00,30.00 76.00,44.00 66.00,62.00 54.00,80.00 28.00,78.00 12.00,60.00" fill="#fff" opacity="0.1" filter="url(#b4)"/><polygon points="17.50,46.30 30.20,32.50 46.60,24.00 64.60,27.50 72.00,38.10 68.50,51.20 60.00,64.80 46.60,72.00 31.80,68.50 21.00,59.40" fill="#fff" opacity="0.55" filter="url(#b2)"/><polygon points="12.00,46.00 28.00,28.00 46.00,20.00 66.00,24.00 76.00,38.00 71.00,54.00 62.00,68.00 46.00,77.00 30.00,73.00 16.00,62.00" fill="#fff" opacity="0.22" filter="url(#b4)"/><ellipse cx="61.00" cy="41.00" rx="8.00" ry="10.50" fill="#fff" opacity="0.5" filter="url(#b2)"/><ellipse cx="50.00" cy="31.00" rx="11.00" ry="5.00" fill="#fff" opacity="0.38" transform="rotate(-10 50.00 31.00)" filter="url(#b2)"/><ellipse cx="46.00" cy="64.50" rx="10.00" ry="4.50" fill="#fff" opacity="0.42" transform="rotate(-15 46.00 64.50)" filter="url(#b2)"/><ellipse cx="41.00" cy="50.00" rx="14.00" ry="14.00" fill="#fff" opacity="0.3" filter="url(#b2)"/><polyline points="10.00,13.50 22.00,9.50 34.20,7.60 50.60,6.50 66.90,8.60 74.50,13.60" fill="none" stroke="#fff" stroke-width="1.7" stroke-linecap="round" stroke-linejoin="round" opacity="0.62" filter="url(#b05)"/><ellipse cx="42.00" cy="3.00" rx="22.00" ry="2.50" fill="#fff" opacity="0.25" filter="url(#b1)"/><polyline points="47.30,5.60 50.50,3.40 53.60,1.40" fill="none" stroke="#fff" stroke-width="1.3" stroke-linecap="round" stroke-linejoin="round" opacity="0.95" filter="url(#b05)"/><polygon points="0.40,12.50 2.60,14.50 5.80,23.50 3.30,22.00 0.60,17.00" fill="#fff" opacity="1.0" filter="url(#b05)"/><ellipse cx="76.00" cy="14.40" rx="2.60" ry="1.90" fill="#fff" opacity="1.0" transform="rotate(-30 76.00 14.40)" filter="url(#b05)"/><polyline points="76.50,15.00 78.00,19.00 81.50,26.50" fill="none" stroke="#fff" stroke-width="1.3" stroke-linecap="round" stroke-linejoin="round" opacity="0.8" filter="url(#b05)"/><polyline points="76.00,13.50 79.00,11.00 82.00,9.50" fill="none" stroke="#fff" stroke-width="1.1" stroke-linecap="round" stroke-linejoin="round" opacity="0.6" filter="url(#b05)"/><circle cx="73.7" cy="71.5" r="8.0" fill="none" stroke="#fff" stroke-width="4.0" opacity="0.97" filter="url(#b1)"/><ellipse cx="67.50" cy="63.00" rx="4.40" ry="3.20" fill="#fff" opacity="0.9" transform="rotate(-40 67.50 63.00)" filter="url(#b1)"/><ellipse cx="44.30" cy="44.80" rx="7.90" ry="7.90" fill="#000" opacity="1.0" filter="url(#b05)"/><ellipse cx="35.80" cy="54.40" rx="7.90" ry="7.90" fill="#000" opacity="1.0" filter="url(#b05)"/><ellipse cx="74.00" cy="74.20" rx="6.20" ry="8.20" fill="#000" opacity="0.96" filter="url(#b05)"/>
</g></g>
<text transform="translate(10.30 227.88) scale(0.9 1)" font-size="8.8" font-weight="bold" fill="#fff" stroke="#fff" stroke-width="0.25">WT</text>
<rect x="71.10" y="227.08" width="13.80" height="1.9" fill="#ececec"/>
</g>
<clipPath id="cl2"><rect x="89.40" y="148.80" width="81.40" height="82.20"/></clipPath>
<filter id="sp2" filterUnits="userSpaceOnUse" x="89.40" y="148.80" width="81.40" height="82.20" color-interpolation-filters="sRGB"><feTurbulence type="fractalNoise" baseFrequency="0.9" numOctaves="2" seed="11" result="n"/><feColorMatrix in="n" type="matrix" values="2.5 0 0 0 -0.75  2.5 0 0 0 -0.75  2.5 0 0 0 -0.75  0 0 0 0 1" result="ng"/><feComposite in="SourceGraphic" in2="ng" operator="arithmetic" k1="0" k2="2.0" k3="2.0" k4="-2.0" result="t"/><feColorMatrix in="t" type="matrix" values="1 0 0 0 0  1 0 0 0 0  1 0 0 0 0  0 0 0 0 1" result="c"/><feGaussianBlur in="c" stdDeviation="0.4"/></filter>
<g clip-path="url(#cl2)">
<rect x="89.40" y="148.80" width="81.40" height="82.20" fill="#000"/>
<g filter="url(#sp2)"><g transform="translate(89.40 148.80)">
<rect x="-5" y="-5" width="91.40" height="92.20" fill="#000"/>
<polygon points="16.00,34.00 46.00,22.00 70.00,30.00 76.00,44.00 66.00,62.00 54.00,80.00 28.00,78.00 12.00,60.00" fill="#fff" opacity="0.09000000000000001" filter="url(#b4)"/><polygon points="17.50,46.30 30.20,32.50 46.60,24.00 64.60,27.50 72.00,38.10 68.50,51.20 60.00,64.80 46.60,72.00 31.80,68.50 21.00,59.40" fill="#fff" opacity="0.49500000000000005" filter="url(#b2)"/><polygon points="12.00,46.00 28.00,28.00 46.00,20.00 66.00,24.00 76.00,38.00 71.00,54.00 62.00,68.00 46.00,77.00 30.00,73.00 16.00,62.00" fill="#fff" opacity="0.198" filter="url(#b4)"/><ellipse cx="61.00" cy="41.00" rx="8.00" ry="10.50" fill="#fff" opacity="0.45" filter="url(#b2)"/><ellipse cx="50.00" cy="31.00" rx="11.00" ry="5.00" fill="#fff" opacity="0.342" transform="rotate(-10 50.00 31.00)" filter="url(#b2)"/><ellipse cx="46.00" cy="64.50" rx="10.00" ry="4.50" fill="#fff" opacity="0.378" transform="rotate(-15 46.00 64.50)" filter="url(#b2)"/><ellipse cx="41.00" cy="50.00" rx="14.00" ry="14.00" fill="#fff" opacity="0.27" filter="url(#b2)"/><polyline points="10.00,13.50 22.00,9.50 34.20,7.60 50.60,6.50 66.90,8.60 74.50,13.60" fill="none" stroke="#fff" stroke-width="1.7" stroke-linecap="round" stroke-linejoin="round" opacity="0.558" filter="url(#b05)"/><ellipse cx="42.00" cy="3.00" rx="22.00" ry="2.50" fill="#fff" opacity="0.225" filter="url(#b1)"/><polyline points="47.30,5.60 50.50,3.40 53.60,1.40" fill="none" stroke="#fff" stroke-width="1.3" stroke-linecap="round" stroke-linejoin="round" opacity="0.855" filter="url(#b05)"/><polygon points="0.40,12.50 2.60,14.50 5.80,23.50 3.30,22.00 0.60,17.00" fill="#fff" opacity="0.9" filter="url(#b05)"/><ellipse cx="76.00" cy="14.40" rx="2.60" ry="1.90" fill="#fff" opacity="0.9" transform="rotate(-30 76.00 14.40)" filter="url(#b05)"/><polyline points="76.50,15.00 78.00,19.00 81.50,26.50" fill="none" stroke="#fff" stroke-width="1.3" stroke-linecap="round" stroke-linejoin="round" opacity="0.7200000000000001" filter="url(#b05)"/><polyline points="76.00,13.50 79.00,11.00 82.00,9.50" fill="none" stroke="#fff" stroke-width="1.1" stroke-linecap="round" stroke-linejoin="round" opacity="0.54" filter="url(#b05)"/><circle cx="73.7" cy="71.5" r="8.0" fill="none" stroke="#fff" stroke-width="4.0" opacity="0.873" filter="url(#b1)"/><ellipse cx="67.50" cy="63.00" rx="4.40" ry="3.20" fill="#fff" opacity="0.81" transform="rotate(-40 67.50 63.00)" filter="url(#b1)"/><ellipse cx="44.30" cy="44.80" rx="7.90" ry="7.90" fill="#000" opacity="1.0" filter="url(#b05)"/><ellipse cx="35.80" cy="54.40" rx="7.90" ry="7.90" fill="#000" opacity="1.0" filter="url(#b05)"/><ellipse cx="74.00" cy="74.20" rx="6.20" ry="8.20" fill="#000" opacity="0.96" filter="url(#b05)"/>
</g></g>
<text transform="translate(93.90 227.88) scale(0.9 1)" font-size="8.8" font-weight="bold" fill="#fff" stroke="#fff" stroke-width="0.25">WT</text>
<rect x="157.00" y="227.08" width="12.40" height="1.9" fill="#ececec"/>
</g>
<clipPath id="cl3"><rect x="172.00" y="148.80" width="81.00" height="82.20"/></clipPath>
<filter id="sp3" filterUnits="userSpaceOnUse" x="172.00" y="148.80" width="81.00" height="82.20" color-interpolation-filters="sRGB"><feTurbulence type="fractalNoise" baseFrequency="0.9" numOctaves="2" seed="3" result="n"/><feColorMatrix in="n" type="matrix" values="2.5 0 0 0 -0.75  2.5 0 0 0 -0.75  2.5 0 0 0 -0.75  0 0 0 0 1" result="ng"/><feComposite in="SourceGraphic" in2="ng" operator="arithmetic" k1="0" k2="2.0" k3="2.0" k4="-2.0" result="t"/><feColorMatrix in="t" type="matrix" values="0.88 0 0 0 0  0.57 0 0 0 0  0.03 0 0 0 0  0 0 0 0 1" result="c"/><feGaussianBlur in="c" stdDeviation="0.4"/></filter>
<g clip-path="url(#cl3)">
<rect x="172.00" y="148.80" width="81.00" height="82.20" fill="#000"/>
<g filter="url(#sp3)"><g transform="translate(172.00 148.80)">
<rect x="-5" y="-5" width="91.00" height="92.20" fill="#000"/>
<polygon points="16.00,34.00 46.00,22.00 70.00,30.00 76.00,44.00 66.00,62.00 54.00,80.00 28.00,78.00 12.00,60.00" fill="#fff" opacity="0.1" filter="url(#b4)"/><polygon points="17.50,46.30 30.20,32.50 46.60,24.00 64.60,27.50 72.00,38.10 68.50,51.20 60.00,64.80 46.60,72.00 31.80,68.50 21.00,59.40" fill="#fff" opacity="0.55" filter="url(#b2)"/><polygon points="12.00,46.00 28.00,28.00 46.00,20.00 66.00,24.00 76.00,38.00 71.00,54.00 62.00,68.00 46.00,77.00 30.00,73.00 16.00,62.00" fill="#fff" opacity="0.22" filter="url(#b4)"/><ellipse cx="61.00" cy="41.00" rx="8.00" ry="10.50" fill="#fff" opacity="0.5" filter="url(#b2)"/><ellipse cx="50.00" cy="31.00" rx="11.00" ry="5.00" fill="#fff" opacity="0.38" transform="rotate(-10 50.00 31.00)" filter="url(#b2)"/><ellipse cx="46.00" cy="64.50" rx="10.00" ry="4.50" fill="#fff" opacity="0.42" transform="rotate(-15 46.00 64.50)" filter="url(#b2)"/><ellipse cx="41.00" cy="50.00" rx="14.00" ry="14.00" fill="#fff" opacity="0.3" filter="url(#b2)"/><polyline points="10.00,13.50 22.00,9.50 34.20,7.60 50.60,6.50 66.90,8.60 74.50,13.60" fill="none" stroke="#fff" stroke-width="1.7" stroke-linecap="round" stroke-linejoin="round" opacity="0.62" filter="url(#b05)"/><ellipse cx="42.00" cy="3.00" rx="22.00" ry="2.50" fill="#fff" opacity="0.25" filter="url(#b1)"/><polyline points="47.30,5.60 50.50,3.40 53.60,1.40" fill="none" stroke="#fff" stroke-width="1.3" stroke-linecap="round" stroke-linejoin="round" opacity="0.95" filter="url(#b05)"/><polygon points="0.40,12.50 2.60,14.50 5.80,23.50 3.30,22.00 0.60,17.00" fill="#fff" opacity="1.0" filter="url(#b05)"/><ellipse cx="76.00" cy="14.40" rx="2.60" ry="1.90" fill="#fff" opacity="1.0" transform="rotate(-30 76.00 14.40)" filter="url(#b05)"/><polyline points="76.50,15.00 78.00,19.00 81.50,26.50" fill="none" stroke="#fff" stroke-width="1.3" stroke-linecap="round" stroke-linejoin="round" opacity="0.8" filter="url(#b05)"/><polyline points="76.00,13.50 79.00,11.00 82.00,9.50" fill="none" stroke="#fff" stroke-width="1.1" stroke-linecap="round" stroke-linejoin="round" opacity="0.6" filter="url(#b05)"/><circle cx="73.7" cy="71.5" r="8.0" fill="none" stroke="#fff" stroke-width="4.0" opacity="0.97" filter="url(#b1)"/><ellipse cx="67.50" cy="63.00" rx="4.40" ry="3.20" fill="#fff" opacity="0.9" transform="rotate(-40 67.50 63.00)" filter="url(#b1)"/><ellipse cx="44.30" cy="44.80" rx="7.90" ry="7.90" fill="#000" opacity="1.0" filter="url(#b05)"/><ellipse cx="35.80" cy="54.40" rx="7.90" ry="7.90" fill="#000" opacity="1.0" filter="url(#b05)"/><ellipse cx="74.00" cy="74.20" rx="6.20" ry="8.20" fill="#000" opacity="0.96" filter="url(#b05)"/>
</g></g>
<g transform="translate(172.00 148.80)" filter="url(#nuc)"><ellipse cx="44.30" cy="44.80" rx="7.90" ry="7.90" fill="#132f93" opacity="1.0" filter="url(#b05)"/><ellipse cx="35.80" cy="54.40" rx="7.90" ry="7.90" fill="#132f93" opacity="1.0" filter="url(#b05)"/><ellipse cx="43.00" cy="2.20" rx="9.00" ry="4.00" fill="#132f93" opacity="1.0" filter="url(#b05)"/><ellipse cx="1.00" cy="10.50" rx="2.40" ry="6.50" fill="#132f93" opacity="1.0" filter="url(#b05)"/><ellipse cx="80.80" cy="19.50" rx="4.00" ry="7.50" fill="#132f93" opacity="1.0" filter="url(#b05)"/><ellipse cx="74.50" cy="72.30" rx="6.60" ry="5.80" fill="#132f93" opacity="1.0" filter="url(#b05)"/></g>
<text transform="translate(176.50 227.88) scale(0.9 1)" font-size="8.8" font-weight="bold" fill="#fff" stroke="#fff" stroke-width="0.25">WT</text>
<rect x="238.40" y="226.07" width="11.90" height="1.9" fill="#ececec"/>
</g>
<clipPath id="cl4"><rect x="255.40" y="148.80" width="81.30" height="82.20"/></clipPath>
<filter id="sp4" filterUnits="userSpaceOnUse" x="255.40" y="148.80" width="81.30" height="82.20" color-interpolation-filters="sRGB"><feTurbulence type="fractalNoise" baseFrequency="0.9" numOctaves="2" seed="5" result="n"/><feColorMatrix in="n" type="matrix" values="2.5 0 0 0 -0.75  2.5 0 0 0 -0.75  2.5 0 0 0 -0.75  0 0 0 0 1" result="ng"/><feComposite in="SourceGraphic" in2="ng" operator="arithmetic" k1="0" k2="2.0" k3="2.0" k4="-2.0" result="t"/><feColorMatrix in="t" type="matrix" values="1 0 0 0 0  1 0 0 0 0  1 0 0 0 0  0 0 0 0 1" result="c"/><feGaussianBlur in="c" stdDeviation="0.4"/></filter>
<g clip-path="url(#cl4)">
<rect x="255.40" y="148.80" width="81.30" height="82.20" fill="#000"/>
<g filter="url(#sp4)"><g transform="translate(255.40 148.80)">
<rect x="-5" y="-5" width="91.30" height="92.20" fill="#000"/>
<polygon points="4.00,-2.00 40.00,-2.00 52.00,20.00 40.00,60.00 30.00,86.00 -2.00,86.00 -2.00,10.00" fill="#fff" opacity="0.142" filter="url(#b4)"/><polygon points="33.20,1.10 43.70,7.00 60.00,25.00 72.50,43.00 65.00,57.70 55.10,70.80 43.70,79.00 40.00,54.50 27.30,43.00 25.70,29.90 29.00,16.80" fill="#fff" opacity="0.3905" filter="url(#b2)"/><ellipse cx="46.00" cy="42.00" rx="11.00" ry="17.00" fill="#fff" opacity="0.1775" transform="rotate(-30 46.00 42.00)" filter="url(#b2)"/><polygon points="6.00,-0.50 33.90,-0.50 30.60,11.90 20.80,18.50 7.70,13.60" fill="#fff" opacity="0.4402" filter="url(#b2)"/><ellipse cx="2.60" cy="32.00" rx="2.60" ry="8.50" fill="#fff" opacity="0.639" filter="url(#b1)"/><ellipse cx="5.00" cy="40.00" rx="3.50" ry="4.00" fill="#fff" opacity="0.355" filter="url(#b1)"/><polygon points="20.00,74.50 40.00,72.00 46.00,79.00 34.00,85.00 16.00,85.00" fill="#fff" opacity="0.6745" filter="url(#b1)"/><ellipse cx="2.80" cy="66.00" rx="3.00" ry="9.00" fill="#fff" opacity="0.6034999999999999" filter="url(#b1)"/><ellipse cx="21.00" cy="60.50" rx="23.00" ry="13.60" fill="#000" opacity="1.0" transform="rotate(12 21.00 60.50)" filter="url(#b05)"/><ellipse cx="10.50" cy="76.60" rx="10.00" ry="6.00" fill="#000" opacity="1.0" filter="url(#b05)"/><ellipse cx="36.30" cy="42.00" rx="10.60" ry="12.00" fill="#fff" opacity="0.3905" transform="rotate(-30 36.30 42.00)" filter="url(#b1)"/><ellipse cx="44.50" cy="57.00" rx="4.00" ry="7.50" fill="#fff" opacity="0.46149999999999997" transform="rotate(-15 44.50 57.00)" filter="url(#b1)"/><ellipse cx="37.30" cy="41.60" rx="8.00" ry="9.30" fill="#000" opacity="1.0" transform="rotate(-30 37.30 41.60)" filter="url(#b05)"/><polygon points="3.00,19.00 14.00,20.00 24.00,17.00 24.00,30.00 25.00,42.00 12.00,46.00 8.00,40.00 7.00,28.00" fill="#000" opacity="0.75" filter="url(#b1)"/>
</g></g>
<text transform="translate(259.90 227.88) scale(0.9 1)" font-size="8.8" font-weight="bold" fill="#fff" stroke="#fff" stroke-width="0.25">KO</text>
<rect x="322.90" y="226.98" width="11.50" height="1.9" fill="#ececec"/>
</g>
<clipPath id="cl5"><rect x="338.30" y="148.80" width="81.40" height="82.20"/></clipPath>
<filter id="sp5" filterUnits="userSpaceOnUse" x="338.30" y="148.80" width="81.40" height="82.20" color-interpolation-filters="sRGB"><feTurbulence type="fractalNoise" baseFrequency="0.9" numOctaves="2" seed="17" result="n"/><feColorMatrix in="n" type="matrix" values="2.5 0 0 0 -0.75  2.5 0 0 0 -0.75  2.5 0 0 0 -0.75  0 0 0 0 1" result="ng"/><feComposite in="SourceGraphic" in2="ng" operator="arithmetic" k1="0" k2="2.0" k3="2.0" k4="-2.0" result="t"/><feColorMatrix in="t" type="matrix" values="1 0 0 0 0  1 0 0 0 0  1 0 0 0 0  0 0 0 0 1" result="c"/><feGaussianBlur in="c" stdDeviation="0.4"/></filter>
<g clip-path="url(#cl5)">
<rect x="338.30" y="148.80" width="81.40" height="82.20" fill="#000"/>
<g filter="url(#sp5)"><g transform="translate(338.30 148.80)">
<rect x="-5" y="-5" width="91.40" height="92.20" fill="#000"/>
<polygon points="4.00,-2.00 40.00,-2.00 52.00,20.00 40.00,60.00 30.00,86.00 -2.00,86.00 -2.00,10.00" fill="#fff" opacity="0.136" filter="url(#b4)"/><polygon points="33.20,1.10 43.70,7.00 60.00,25.00 72.50,43.00 65.00,57.70 55.10,70.80 43.70,79.00 40.00,54.50 27.30,43.00 25.70,29.90 29.00,16.80" fill="#fff" opacity="0.37400000000000005" filter="url(#b2)"/><ellipse cx="46.00" cy="42.00" rx="11.00" ry="17.00" fill="#fff" opacity="0.17" transform="rotate(-30 46.00 42.00)" filter="url(#b2)"/><polygon points="6.00,-0.50 33.90,-0.50 30.60,11.90 20.80,18.50 7.70,13.60" fill="#fff" opacity="0.42160000000000003" filter="url(#b2)"/><ellipse cx="2.60" cy="32.00" rx="2.60" ry="8.50" fill="#fff" opacity="0.6120000000000001" filter="url(#b1)"/><ellipse cx="5.00" cy="40.00" rx="3.50" ry="4.00" fill="#fff" opacity="0.34" filter="url(#b1)"/><polygon points="20.00,74.50 40.00,72.00 46.00,79.00 34.00,85.00 16.00,85.00" fill="#fff" opacity="0.646" filter="url(#b1)"/><ellipse cx="2.80" cy="66.00" rx="3.00" ry="9.00" fill="#fff" opacity="0.5780000000000001" filter="url(#b1)"/><ellipse cx="21.00" cy="60.50" rx="23.00" ry="13.60" fill="#000" opacity="1.0" transform="rotate(12 21.00 60.50)" filter="url(#b05)"/><ellipse cx="10.50" cy="76.60" rx="10.00" ry="6.00" fill="#000" opacity="1.0" filter="url(#b05)"/><ellipse cx="36.30" cy="42.00" rx="10.60" ry="12.00" fill="#fff" opacity="0.37400000000000005" transform="rotate(-30 36.30 42.00)" filter="url(#b1)"/><ellipse cx="44.50" cy="57.00" rx="4.00" ry="7.50" fill="#fff" opacity="0.44200000000000006" transform="rotate(-15 44.50 57.00)" filter="url(#b1)"/><ellipse cx="37.30" cy="41.60" rx="8.00" ry="9.30" fill="#000" opacity="1.0" transform="rotate(-30 37.30 41.60)" filter="url(#b05)"/><polygon points="3.00,19.00 14.00,20.00 24.00,17.00 24.00,30.00 25.00,42.00 12.00,46.00 8.00,40.00 7.00,28.00" fill="#000" opacity="0.75" filter="url(#b1)"/>
</g></g>
<text transform="translate(342.80 227.88) scale(0.9 1)" font-size="8.8" font-weight="bold" fill="#fff" stroke="#fff" stroke-width="0.25">KO</text>
<rect x="406.40" y="226.98" width="11.40" height="1.9" fill="#ececec"/>
</g>
<clipPath id="cl6"><rect x="421.80" y="148.80" width="81.60" height="82.20"/></clipPath>
<filter id="sp6" filterUnits="userSpaceOnUse" x="421.80" y="148.80" width="81.60" height="82.20" color-interpolation-filters="sRGB"><feTurbulence type="fractalNoise" baseFrequency="0.9" numOctaves="2" seed="5" result="n"/><feColorMatrix in="n" type="matrix" values="2.5 0 0 0 -0.75  2.5 0 0 0 -0.75  2.5 0 0 0 -0.75  0 0 0 0 1" result="ng"/><feComposite in="SourceGraphic" in2="ng" operator="arithmetic" k1="0" k2="2.0" k3="2.0" k4="-2.0" result="t"/><feColorMatrix in="t" type="matrix" values="0.86 0 0 0 0  0.74 0 0 0 0  0.03 0 0 0 0  0 0 0 0 1" result="c"/><feGaussianBlur in="c" stdDeviation="0.4"/></filter>
<g clip-path="url(#cl6)">
<rect x="421.80" y="148.80" width="81.60" height="82.20" fill="#000"/>
<g filter="url(#sp6)"><g transform="translate(421.80 148.80)">
<rect x="-5" y="-5" width="91.60" height="92.20" fill="#000"/>
<polygon points="4.00,-2.00 40.00,-2.00 52.00,20.00 40.00,60.00 30.00,86.00 -2.00,86.00 -2.00,10.00" fill="#fff" opacity="0.168" filter="url(#b4)"/><polygon points="33.20,1.10 43.70,7.00 60.00,25.00 72.50,43.00 65.00,57.70 55.10,70.80 43.70,79.00 40.00,54.50 27.30,43.00 25.70,29.90 29.00,16.80" fill="#fff" opacity="0.462" filter="url(#b2)"/><ellipse cx="46.00" cy="42.00" rx="11.00" ry="17.00" fill="#fff" opacity="0.21" transform="rotate(-30 46.00 42.00)" filter="url(#b2)"/><polygon points="6.00,-0.50 33.90,-0.50 30.60,11.90 20.80,18.50 7.70,13.60" fill="#fff" opacity="0.5207999999999999" filter="url(#b2)"/><ellipse cx="2.60" cy="32.00" rx="2.60" ry="8.50" fill="#fff" opacity="0.756" filter="url(#b1)"/><ellipse cx="5.00" cy="40.00" rx="3.50" ry="4.00" fill="#fff" opacity="0.42" filter="url(#b1)"/><polygon points="20.00,74.50 40.00,72.00 46.00,79.00 34.00,85.00 16.00,85.00" fill="#fff" opacity="0.7979999999999999" filter="url(#b1)"/><ellipse cx="2.80" cy="66.00" rx="3.00" ry="9.00" fill="#fff" opacity="0.714" filter="url(#b1)"/><ellipse cx="21.00" cy="60.50" rx="23.00" ry="13.60" fill="#000" opacity="1.0" transform="rotate(12 21.00 60.50)" filter="url(#b05)"/><ellipse cx="10.50" cy="76.60" rx="10.00" ry="6.00" fill="#000" opacity="1.0" filter="url(#b05)"/><ellipse cx="36.30" cy="42.00" rx="10.60" ry="12.00" fill="#fff" opacity="0.462" transform="rotate(-30 36.30 42.00)" filter="url(#b1)"/><ellipse cx="44.50" cy="57.00" rx="4.00" ry="7.50" fill="#fff" opacity="0.546" transform="rotate(-15 44.50 57.00)" filter="url(#b1)"/><ellipse cx="37.30" cy="41.60" rx="8.00" ry="9.30" fill="#000" opacity="1.0" transform="rotate(-30 37.30 41.60)" filter="url(#b05)"/><polygon points="3.00,19.00 14.00,20.00 24.00,17.00 24.00,30.00 25.00,42.00 12.00,46.00 8.00,40.00 7.00,28.00" fill="#000" opacity="0.75" filter="url(#b1)"/>
</g></g>
<g transform="translate(421.80 148.80)" filter="url(#nuc)"><ellipse cx="37.30" cy="41.60" rx="8.00" ry="9.30" fill="#132f93" opacity="1.0" transform="rotate(-30 37.30 41.60)" filter="url(#b05)"/><ellipse cx="10.50" cy="76.60" rx="10.00" ry="6.00" fill="#132f93" opacity="1.0" filter="url(#b05)"/></g>
<text transform="translate(426.30 227.88) scale(0.9 1)" font-size="8.8" font-weight="bold" fill="#fff" stroke="#fff" stroke-width="0.25">KO</text>
<rect x="489.80" y="227.78" width="11.50" height="1.9" fill="#ececec"/>
</g>
<clipPath id="cl7"><rect x="5.80" y="246.00" width="81.80" height="81.10"/></clipPath>
<filter id="sp7" filterUnits="userSpaceOnUse" x="5.80" y="246.00" width="81.80" height="81.10" color-interpolation-filters="sRGB"><feTurbulence type="fractalNoise" baseFrequency="0.9" numOctaves="2" seed="21" result="n"/><feColorMatrix in="n" type="matrix" values="2.5 0 0 0 -0.75  2.5 0 0 0 -0.75  2.5 0 0 0 -0.75  0 0 0 0 1" result="ng"/><feComposite in="SourceGraphic" in2="ng" operator="arithmetic" k1="1.7" k2="0.12" k3="0" k4="0" result="t"/><feColorMatrix in="t" type="matrix" values="1 0 0 0 0  1 0 0 0 0  1 0 0 0 0  0 0 0 0 1" result="c"/><feGaussianBlur in="c" stdDeviation="0.4"/></filter>
<g clip-path="url(#cl7)">
<rect x="5.80" y="246.00" width="81.80" height="81.10" fill="#000"/>
<g filter="url(#sp7)"><g transform="translate(5.80 246.00)">
<rect x="-5" y="-5" width="91.80" height="91.10" fill="#000"/>
<polygon points="0.70,28.10 13.80,35.60 26.90,42.20 40.00,48.70 53.10,58.50 64.60,68.40 68.80,73.90 66.80,75.90 56.40,71.60 43.30,65.10 31.80,58.50 22.00,50.40 10.60,40.50 1.40,32.40" fill="#fff" opacity="0.17" filter="url(#b05)"/><ellipse cx="36.00" cy="53.50" rx="13.00" ry="4.60" fill="#fff" opacity="0.14450000000000002" transform="rotate(38 36.00 53.50)" filter="url(#b1)"/><ellipse cx="9.00" cy="33.00" rx="8.00" ry="2.00" fill="#fff" opacity="0.102" transform="rotate(33 9.00 33.00)" filter="url(#b1)"/><ellipse cx="36.50" cy="53.50" rx="5.50" ry="3.20" fill="#000" opacity="0.3" transform="rotate(38 36.50 53.50)" filter="url(#b1)"/>
</g></g>
<text transform="translate(10.30 323.42) scale(0.9 1)" font-size="8.8" font-weight="bold" fill="#fff" stroke="#fff" stroke-width="0.25">WT</text>
<rect x="74.40" y="321.63" width="11.40" height="1.9" fill="#ececec"/>
</g>
<clipPath id="cl8"><rect x="89.40" y="246.00" width="81.40" height="81.10"/></clipPath>
<filter id="sp8" filterUnits="userSpaceOnUse" x="89.40" y="246.00" width="81.40" height="81.10" color-interpolation-filters="sRGB"><feTurbulence type="fractalNoise" baseFrequency="0.9" numOctaves="2" seed="23" result="n"/><feColorMatrix in="n" type="matrix" values="2.5 0 0 0 -0.75  2.5 0 0 0 -0.75  2.5 0 0 0 -0.75  0 0 0 0 1" result="ng"/><feComposite in="SourceGraphic" in2="ng" operator="arithmetic" k1="1.7" k2="0.12" k3="0" k4="0" result="t"/><feColorMatrix in="t" type="matrix" values="1 0 0 0 0  1 0 0 0 0  1 0 0 0 0  0 0 0 0 1" result="c"/><feGaussianBlur in="c" stdDeviation="0.4"/></filter>
<g clip-path="url(#cl8)">
<rect x="89.40" y="246.00" width="81.40" height="81.10" fill="#000"/>
<g filter="url(#sp8)"><g transform="translate(89.40 246.00)">
<rect x="-5" y="-5" width="91.40" height="91.10" fill="#000"/>
<polygon points="0.70,28.10 13.80,35.60 26.90,42.20 40.00,48.70 53.10,58.50 64.60,68.40 68.80,73.90 66.80,75.90 56.40,71.60 43.30,65.10 31.80,58.50 22.00,50.40 10.60,40.50 1.40,32.40" fill="#fff" opacity="0.0765" filter="url(#b1)"/><polyline points="2.20,29.10 12.00,36.00 28.40,47.10" fill="none" stroke="#fff" stroke-width="1.0" stroke-linecap="round" stroke-linejoin="round" opacity="0.357" filter="url(#b05)"/><polyline points="2.20,32.50 12.00,40.00 27.00,50.00" fill="none" stroke="#fff" stroke-width="1.0" stroke-linecap="round" stroke-linejoin="round" opacity="0.272" filter="url(#b05)"/><polyline points="44.80,56.90 56.00,63.50 64.40,68.40" fill="none" stroke="#fff" stroke-width="0.9" stroke-linecap="round" stroke-linejoin="round" opacity="0.272" filter="url(#b05)"/><polyline points="43.10,60.20 53.00,68.50 59.50,74.90" fill="none" stroke="#fff" stroke-width="0.9" stroke-linecap="round" stroke-linejoin="round" opacity="0.255" filter="url(#b05)"/><ellipse cx="36.60" cy="52.50" rx="8.20" ry="5.60" fill="#fff" opacity="0.34" transform="rotate(38 36.60 52.50)" filter="url(#b1)"/><ellipse cx="61.80" cy="74.20" rx="2.00" ry="1.20" fill="#fff" opacity="0.68" filter="url(#b05)"/>
</g></g>
<text transform="translate(93.90 323.42) scale(0.9 1)" font-size="8.8" font-weight="bold" fill="#fff" stroke="#fff" stroke-width="0.25">WT</text>
<rect x="157.00" y="320.83" width="12.20" height="1.9" fill="#ececec"/>
</g>
<clipPath id="cl9"><rect x="172.00" y="246.00" width="81.00" height="81.10"/></clipPath>
<filter id="sp9" filterUnits="userSpaceOnUse" x="172.00" y="246.00" width="81.00" height="81.10" color-interpolation-filters="sRGB"><feTurbulence type="fractalNoise" baseFrequency="0.9" numOctaves="2" seed="21" result="n"/><feColorMatrix in="n" type="matrix" values="2.5 0 0 0 -0.75  2.5 0 0 0 -0.75  2.5 0 0 0 -0.75  0 0 0 0 1" result="ng"/><feComposite in="SourceGraphic" in2="ng" operator="arithmetic" k1="0" k2="1.8" k3="1.8" k4="-1.8" result="t"/><feColorMatrix in="t" type="matrix" values="0.85 0 0 0 0  0.1 0 0 0 0  0.1 0 0 0 0  0 0 0 0 1" result="c"/><feGaussianBlur in="c" stdDeviation="0.4"/></filter>
<filter id="sp10" filterUnits="userSpaceOnUse" x="172.00" y="246.00" width="81.00" height="81.10" color-interpolation-filters="sRGB"><feTurbulence type="fractalNoise" baseFrequency="0.9" numOctaves="2" seed="23" result="n"/><feColorMatrix in="n" type="matrix" values="2.5 0 0 0 -0.75  2.5 0 0 0 -0.75  2.5 0 0 0 -0.75  0 0 0 0 1" result="ng"/><feComposite in="SourceGraphic" in2="ng" operator="arithmetic" k1="1.7" k2="0.12" k3="0" k4="0" result="t"/><feColorMatrix in="t" type="matrix" values="0.1 0 0 0 0  0.8 0 0 0 0  0.25 0 0 0 0  0 0 0 0 1" result="c"/><feGaussianBlur in="c" stdDeviation="0.4"/></filter>
<g clip-path="url(#cl9)">
<rect x="172.00" y="246.00" width="81.00" height="81.10" fill="#000"/>
<g filter="url(#sp9)"><g transform="translate(172.00 246.00)">
<rect x="-5" y="-5" width="91.00" height="91.10" fill="#000"/>
<polygon points="0.70,28.10 13.80,35.60 26.90,42.20 40.00,48.70 53.10,58.50 64.60,68.40 68.80,73.90 66.80,75.90 56.40,71.60 43.30,65.10 31.80,58.50 22.00,50.40 10.60,40.50 1.40,32.40" fill="#fff" opacity="0.4" filter="url(#b05)"/><ellipse cx="36.00" cy="53.50" rx="13.00" ry="4.60" fill="#fff" opacity="0.34" transform="rotate(38 36.00 53.50)" filter="url(#b1)"/><ellipse cx="9.00" cy="33.00" rx="8.00" ry="2.00" fill="#fff" opacity="0.24" transform="rotate(33 9.00 33.00)" filter="url(#b1)"/><ellipse cx="36.50" cy="53.50" rx="5.50" ry="3.20" fill="#000" opacity="0.3" transform="rotate(38 36.50 53.50)" filter="url(#b1)"/>
</g></g>
<g filter="url(#sp10)" style="mix-blend-mode:screen"><g transform="translate(172.00 246.00)">
<rect x="-5" y="-5" width="91.00" height="91.10" fill="#000"/>
<polygon points="0.70,28.10 13.80,35.60 26.90,42.20 40.00,48.70 53.10,58.50 64.60,68.40 68.80,73.90 66.80,75.90 56.40,71.60 43.30,65.10 31.80,58.50 22.00,50.40 10.60,40.50 1.40,32.40" fill="#fff" opacity="0.063" filter="url(#b1)"/><polyline points="2.20,29.10 12.00,36.00 28.40,47.10" fill="none" stroke="#fff" stroke-width="1.0" stroke-linecap="round" stroke-linejoin="round" opacity="0.294" filter="url(#b05)"/><polyline points="2.20,32.50 12.00,40.00 27.00,50.00" fill="none" stroke="#fff" stroke-width="1.0" stroke-linecap="round" stroke-linejoin="round" opacity="0.22399999999999998" filter="url(#b05)"/><polyline points="44.80,56.90 56.00,63.50 64.40,68.40" fill="none" stroke="#fff" stroke-width="0.9" stroke-linecap="round" stroke-linejoin="round" opacity="0.22399999999999998" filter="url(#b05)"/><polyline points="43.10,60.20 53.00,68.50 59.50,74.90" fill="none" stroke="#fff" stroke-width="0.9" stroke-linecap="round" stroke-linejoin="round" opacity="0.21" filter="url(#b05)"/><ellipse cx="36.60" cy="52.50" rx="8.20" ry="5.60" fill="#fff" opacity="0.27999999999999997" transform="rotate(38 36.60 52.50)" filter="url(#b1)"/><ellipse cx="61.80" cy="74.20" rx="2.00" ry="1.20" fill="#fff" opacity="0.5599999999999999" filter="url(#b05)"/>
</g></g>
<g transform="translate(172.00 246.00)" filter="url(#nuc)"><ellipse cx="36.50" cy="52.80" rx="8.40" ry="5.60" fill="#1c48cc" opacity="1.0" transform="rotate(32 36.50 52.80)" filter="url(#b05)"/><ellipse cx="37.50" cy="53.20" rx="4.20" ry="2.20" fill="#1f9a8a" opacity="0.75" transform="rotate(40 37.50 53.20)" filter="url(#b05)"/><ellipse cx="33.50" cy="50.50" rx="1.80" ry="1.30" fill="#1f9a8a" opacity="0.6" transform="rotate(30 33.50 50.50)" filter="url(#b05)"/></g>
<text transform="translate(176.50 323.42) scale(0.9 1)" font-size="8.8" font-weight="bold" fill="#fff" stroke="#fff" stroke-width="0.25">WT</text>
<rect x="238.40" y="319.94" width="11.90" height="1.9" fill="#ececec"/>
</g>
<clipPath id="cl10"><rect x="255.40" y="246.00" width="81.30" height="81.10"/></clipPath>
<filter id="sp11" filterUnits="userSpaceOnUse" x="255.40" y="246.00" width="81.30" height="81.10" color-interpolation-filters="sRGB"><feTurbulence type="fractalNoise" baseFrequency="0.9" numOctaves="2" seed="31" result="n"/><feColorMatrix in="n" type="matrix" values="2.5 0 0 0 -0.75  2.5 0 0 0 -0.75  2.5 0 0 0 -0.75  0 0 0 0 1" result="ng"/><feComposite in="SourceGraphic" in2="ng" operator="arithmetic" k1="0" k2="1.6" k3="1.6" k4="-1.6" result="t"/><feColorMatrix in="t" type="matrix" values="1 0 0 0 0  1 0 0 0 0  1 0 0 0 0  0 0 0 0 1" result="c"/><feGaussianBlur in="c" stdDeviation="0.4"/></filter>
<g clip-path="url(#cl10)">
<rect x="255.40" y="246.00" width="81.30" height="81.10" fill="#000"/>
<g filter="url(#sp11)"><g transform="translate(255.40 246.00)">
<rect x="-5" y="-5" width="91.30" height="91.10" fill="#000"/>
<polygon points="3.10,52.90 14.20,42.20 23.50,33.80 34.60,30.10 49.40,27.40 60.50,26.40 73.40,27.00 71.60,29.20 60.50,33.80 51.20,37.50 42.00,44.00 30.90,50.50 18.00,53.30 5.00,54.20" fill="#fff" opacity="0.47" filter="url(#b1)"/><ellipse cx="34.00" cy="40.00" rx="14.00" ry="6.50" fill="#fff" opacity="0.22" transform="rotate(-22 34.00 40.00)" filter="url(#b2)"/><ellipse cx="55.00" cy="31.00" rx="10.00" ry="3.00" fill="#fff" opacity="0.2" transform="rotate(-12 55.00 31.00)" filter="url(#b1)"/><ellipse cx="31.80" cy="39.20" rx="5.20" ry="5.20" fill="#000" opacity="0.55" filter="url(#b05)"/>
</g></g>
<g transform="translate(255.40 246.00)"><path d="M22.90 39.50 l1.8 -2.1 h-1.2 v-2.7 h-1.2 v2.7 h-1.2z" fill="#fff"/><path d="M40.50 39.70 l1.8 2.1 h-1.2 v2.7 h-1.2 v-2.7 h-1.2z" fill="#fff"/><path d="M51.80 31.00 l1.8 -2.1 h-1.2 v-2.7 h-1.2 v2.7 h-1.2z" fill="#fff"/><path d="M64.60 29.50 l1.8 2.1 h-1.2 v2.7 h-1.2 v-2.7 h-1.2z" fill="#fff"/></g>
<text transform="translate(259.90 323.42) scale(0.9 1)" font-size="8.8" font-weight="bold" fill="#fff" stroke="#fff" stroke-width="0.25">KO</text>
<rect x="323.80" y="320.63" width="11.90" height="1.9" fill="#ececec"/>
</g>
<clipPath id="cl11"><rect x="338.30" y="246.00" width="81.40" height="81.10"/></clipPath>
<filter id="sp12" filterUnits="userSpaceOnUse" x="338.30" y="246.00" width="81.40" height="81.10" color-interpolation-filters="sRGB"><feTurbulence type="fractalNoise" baseFrequency="0.9" numOctaves="2" seed="33" result="n"/><feColorMatrix in="n" type="matrix" values="2.5 0 0 0 -0.75  2.5 0 0 0 -0.75  2.5 0 0 0 -0.75  0 0 0 0 1" result="ng"/><feComposite in="SourceGraphic" in2="ng" operator="arithmetic" k1="0" k2="1.6" k3="1.6" k4="-1.6" result="t"/><feColorMatrix in="t" type="matrix" values="1 0 0 0 0  1 0 0 0 0  1 0 0 0 0  0 0 0 0 1" result="c"/><feGaussianBlur in="c" stdDeviation="0.4"/></filter>
<g clip-path="url(#cl11)">
<rect x="338.30" y="246.00" width="81.40" height="81.10" fill="#000"/>
<g filter="url(#sp12)"><g transform="translate(338.30 246.00)">
<rect x="-5" y="-5" width="91.40" height="91.10" fill="#000"/>
<polygon points="3.10,52.90 14.20,42.20 23.50,33.80 34.60,30.10 49.40,27.40 60.50,26.40 73.40,27.00 71.60,29.20 60.50,33.80 51.20,37.50 42.00,44.00 30.90,50.50 18.00,53.30 5.00,54.20" fill="#fff" opacity="0.44649999999999995" filter="url(#b1)"/><ellipse cx="34.00" cy="40.00" rx="14.00" ry="6.50" fill="#fff" opacity="0.209" transform="rotate(-22 34.00 40.00)" filter="url(#b2)"/><ellipse cx="55.00" cy="31.00" rx="10.00" ry="3.00" fill="#fff" opacity="0.19" transform="rotate(-12 55.00 31.00)" filter="url(#b1)"/><ellipse cx="31.80" cy="39.20" rx="5.20" ry="5.20" fill="#000" opacity="0.55" filter="url(#b05)"/>
</g></g>
<g transform="translate(338.30 246.00)"><path d="M22.90 39.50 l1.8 -2.1 h-1.2 v-2.7 h-1.2 v2.7 h-1.2z" fill="#fff"/><path d="M40.50 39.70 l1.8 2.1 h-1.2 v2.7 h-1.2 v-2.7 h-1.2z" fill="#fff"/><path d="M51.80 31.00 l1.8 -2.1 h-1.2 v-2.7 h-1.2 v2.7 h-1.2z" fill="#fff"/><path d="M64.60 29.50 l1.8 2.1 h-1.2 v2.7 h-1.2 v-2.7 h-1.2z" fill="#fff"/></g>
<text transform="translate(342.80 323.42) scale(0.9 1)" font-size="8.8" font-weight="bold" fill="#fff" stroke="#fff" stroke-width="0.25">KO</text>
<rect x="406.80" y="320.63" width="11.50" height="1.9" fill="#ececec"/>
</g>
<clipPath id="cl12"><rect x="421.80" y="246.00" width="81.60" height="81.10"/></clipPath>
<filter id="sp13" filterUnits="userSpaceOnUse" x="421.80" y="246.00" width="81.60" height="81.10" color-interpolation-filters="sRGB"><feTurbulence type="fractalNoise" baseFrequency="0.9" numOctaves="2" seed="31" result="n"/><feColorMatrix in="n" type="matrix" values="2.5 0 0 0 -0.75  2.5 0 0 0 -0.75  2.5 0 0 0 -0.75  0 0 0 0 1" result="ng"/><feComposite in="SourceGraphic" in2="ng" operator="arithmetic" k1="0" k2="1.6" k3="1.6" k4="-1.6" result="t"/><feColorMatrix in="t" type="matrix" values="0.86 0 0 0 0  0.74 0 0 0 0  0.03 0 0 0 0  0 0 0 0 1" result="c"/><feGaussianBlur in="c" stdDeviation="0.4"/></filter>
<g clip-path="url(#cl12)">
<rect x="421.80" y="246.00" width="81.60" height="81.10" fill="#000"/>
<g filter="url(#sp13)"><g transform="translate(421.80 246.00)">
<rect x="-5" y="-5" width="91.60" height="91.10" fill="#000"/>
<polygon points="3.10,52.90 14.20,42.20 23.50,33.80 34.60,30.10 49.40,27.40 60.50,26.40 73.40,27.00 71.60,29.20 60.50,33.80 51.20,37.50 42.00,44.00 30.90,50.50 18.00,53.30 5.00,54.20" fill="#fff" opacity="0.46059999999999995" filter="url(#b1)"/><ellipse cx="34.00" cy="40.00" rx="14.00" ry="6.50" fill="#fff" opacity="0.21559999999999999" transform="rotate(-22 34.00 40.00)" filter="url(#b2)"/><ellipse cx="55.00" cy="31.00" rx="10.00" ry="3.00" fill="#fff" opacity="0.196" transform="rotate(-12 55.00 31.00)" filter="url(#b1)"/><ellipse cx="31.80" cy="39.20" rx="5.20" ry="5.20" fill="#000" opacity="0.55" filter="url(#b05)"/>
</g></g>
<g transform="translate(421.80 246.00)" filter="url(#nuc)"><ellipse cx="31.80" cy="39.20" rx="5.80" ry="5.40" fill="#132f93" opacity="1.0" filter="url(#b05)"/></g>
<text transform="translate(426.30 323.42) scale(0.9 1)" font-size="8.8" font-weight="bold" fill="#fff" stroke="#fff" stroke-width="0.25">KO</text>
<rect x="489.80" y="320.93" width="12.90" height="1.9" fill="#ececec"/>
</g>
<text x="19.20" y="145.40" font-size="7.9" text-anchor="start" fill="#f2503f" stroke="#f2503f" stroke-width="0.28">PDI</text>
<text x="90.60" y="145.40" font-size="7.9" text-anchor="start" fill="#2fb34a" stroke="#2fb34a" stroke-width="0.28">Calnexin</text>
<text x="174.00" y="145.40" font-size="7.9" text-anchor="start" fill="#111" stroke="#111" stroke-width="0.28">Merge</text>
<text x="200.20" y="145.40" font-size="7.9" text-anchor="start" fill="#2b5fc7" stroke="#2b5fc7" stroke-width="0.28">DAPI</text>
<text x="256.20" y="145.40" font-size="7.9" text-anchor="start" fill="#f2503f" stroke="#f2503f" stroke-width="0.28">PDI</text>
<text x="339.60" y="145.40" font-size="7.9" text-anchor="start" fill="#2fb34a" stroke="#2fb34a" stroke-width="0.28">Calnexin</text>
<text x="422.60" y="145.40" font-size="7.9" text-anchor="start" fill="#111" stroke="#111" stroke-width="0.28">Merge</text>
<text x="449.60" y="145.40" font-size="7.9" text-anchor="start" fill="#2b5fc7" stroke="#2b5fc7" stroke-width="0.28">DAPI</text>
<text x="17.80" y="243.20" font-size="7.9" text-anchor="start" fill="#f2503f" stroke="#f2503f" stroke-width="0.28">PDI</text>
<text x="89.70" y="243.20" font-size="7.9" text-anchor="start" fill="#2fb34a" stroke="#2fb34a" stroke-width="0.28">&#945;-DG GFP</text>
<text x="174.00" y="243.20" font-size="7.9" text-anchor="start" fill="#111" stroke="#111" stroke-width="0.28">Merge</text>
<text x="200.20" y="243.20" font-size="7.9" text-anchor="start" fill="#2b5fc7" stroke="#2b5fc7" stroke-width="0.28">DAPI</text>
<text x="256.20" y="243.20" font-size="7.9" text-anchor="start" fill="#f2503f" stroke="#f2503f" stroke-width="0.28">PDI</text>
<text x="339.60" y="243.20" font-size="7.9" text-anchor="start" fill="#2fb34a" stroke="#2fb34a" stroke-width="0.28">&#945;-DG GFP</text>
<text x="422.60" y="243.20" font-size="7.9" text-anchor="start" fill="#111" stroke="#111" stroke-width="0.28">Merge</text>
<text x="449.60" y="243.20" font-size="7.9" text-anchor="start" fill="#2b5fc7" stroke="#2b5fc7" stroke-width="0.28">DAPI</text>
<text x="6.60" y="146.40" font-size="10.2" text-anchor="start" font-weight="bold" fill="#000" stroke="#000" stroke-width="0.3">D</text>
<text x="6.60" y="244.00" font-size="10.2" text-anchor="start" font-weight="bold" fill="#000" stroke="#000" stroke-width="0.3">E</text>
<text x="6.60" y="339.50" font-size="10.2" text-anchor="start" font-weight="bold" fill="#000" stroke="#000" stroke-width="0.3">F</text>
<rect x="36.4" y="335.5" width="8.6" height="3.4" fill="#5a5a5e" stroke="#111" stroke-width="1.1"/>
<circle cx="48.50" cy="337.30" r="2.05" fill="#0a0a0a"/>
<text x="53.60" y="340.00" font-size="7.7" text-anchor="start" fill="#111" stroke="#111" stroke-width="0.28">WT</text>
<rect x="78.4" y="335.5" width="8.6" height="3.4" fill="#dcdcdc" stroke="#111" stroke-width="1.1"/>
<circle cx="90.50" cy="337.30" r="1.55" fill="#fff" stroke="#0a0a0a" stroke-width="0.95"/>
<text x="95.20" y="340.00" font-size="7.7" text-anchor="start" fill="#111" stroke="#111" stroke-width="0.28">KO</text>
<line x1="43.80" y1="353.10" x2="43.80" y2="446.90" stroke="#111" stroke-width="1"/>
<line x1="43.30" y1="446.40" x2="110.00" y2="446.40" stroke="#111" stroke-width="1"/>
<line x1="40.20" y1="446.40" x2="43.80" y2="446.40" stroke="#111" stroke-width="1"/>
<text x="37.80" y="449.10" font-size="7.7" text-anchor="end" fill="#111" stroke="#111" stroke-width="0.28">60</text>
<line x1="40.20" y1="423.17" x2="43.80" y2="423.17" stroke="#111" stroke-width="1"/>
<text x="37.80" y="425.87" font-size="7.7" text-anchor="end" fill="#111" stroke="#111" stroke-width="0.28">80</text>
<line x1="40.20" y1="399.95" x2="43.80" y2="399.95" stroke="#111" stroke-width="1"/>
<text x="37.80" y="402.65" font-size="7.7" text-anchor="end" fill="#111" stroke="#111" stroke-width="0.28">100</text>
<line x1="40.20" y1="376.73" x2="43.80" y2="376.73" stroke="#111" stroke-width="1"/>
<text x="37.80" y="379.43" font-size="7.7" text-anchor="end" fill="#111" stroke="#111" stroke-width="0.28">120</text>
<line x1="40.20" y1="353.50" x2="43.80" y2="353.50" stroke="#111" stroke-width="1"/>
<text x="37.80" y="356.20" font-size="7.7" text-anchor="end" fill="#111" stroke="#111" stroke-width="0.28">140</text>
<line x1="60.70" y1="446.40" x2="60.70" y2="449.90" stroke="#111" stroke-width="1"/>
<line x1="92.30" y1="446.40" x2="92.30" y2="449.90" stroke="#111" stroke-width="1"/>
<rect x="47.95" y="400.53" width="11.50" height="45.87" fill="#69696e" stroke="#111" stroke-width="0.9"/>
<rect x="61.85" y="399.60" width="12.10" height="46.80" fill="#d0d0d2" stroke="#111" stroke-width="0.9"/>
<rect x="79.55" y="400.18" width="11.90" height="46.22" fill="#69696e" stroke="#111" stroke-width="0.9"/>
<rect x="93.75" y="399.60" width="12.30" height="46.80" fill="#d0d0d2" stroke="#111" stroke-width="0.9"/>
<line x1="53.70" y1="388.92" x2="53.70" y2="410.40" stroke="#111" stroke-width="0.95"/>
<line x1="51.00" y1="388.92" x2="56.40" y2="388.92" stroke="#111" stroke-width="0.95"/>
<line x1="51.00" y1="410.40" x2="56.40" y2="410.40" stroke="#111" stroke-width="0.95"/>
<line x1="67.90" y1="391.47" x2="67.90" y2="407.15" stroke="#111" stroke-width="0.95"/>
<line x1="65.20" y1="391.47" x2="70.60" y2="391.47" stroke="#111" stroke-width="0.95"/>
<line x1="65.20" y1="407.15" x2="70.60" y2="407.15" stroke="#111" stroke-width="0.95"/>
<line x1="85.50" y1="385.67" x2="85.50" y2="414.12" stroke="#111" stroke-width="0.95"/>
<line x1="82.80" y1="385.67" x2="88.20" y2="385.67" stroke="#111" stroke-width="0.95"/>
<line x1="82.80" y1="414.12" x2="88.20" y2="414.12" stroke="#111" stroke-width="0.95"/>
<line x1="99.90" y1="381.37" x2="99.90" y2="416.79" stroke="#111" stroke-width="0.95"/>
<line x1="97.20" y1="381.37" x2="102.60" y2="381.37" stroke="#111" stroke-width="0.95"/>
<line x1="97.20" y1="416.79" x2="102.60" y2="416.79" stroke="#111" stroke-width="0.95"/>
<circle cx="53.60" cy="374.40" r="1.85" fill="#0a0a0a"/>
<circle cx="53.60" cy="392.98" r="1.85" fill="#0a0a0a"/>
<circle cx="53.60" cy="407.50" r="1.85" fill="#0a0a0a"/>
<circle cx="53.60" cy="425.50" r="1.85" fill="#0a0a0a"/>
<circle cx="68.20" cy="383.69" r="1.4000000000000001" fill="#fff" stroke="#0a0a0a" stroke-width="0.95"/>
<circle cx="67.40" cy="389.15" r="1.4000000000000001" fill="#fff" stroke="#0a0a0a" stroke-width="0.95"/>
<circle cx="68.20" cy="406.92" r="1.4000000000000001" fill="#fff" stroke="#0a0a0a" stroke-width="0.95"/>
<circle cx="68.20" cy="415.63" r="1.4000000000000001" fill="#fff" stroke="#0a0a0a" stroke-width="0.95"/>
<circle cx="85.40" cy="363.95" r="1.85" fill="#0a0a0a"/>
<circle cx="85.40" cy="393.56" r="1.85" fill="#0a0a0a"/>
<circle cx="85.40" cy="406.34" r="1.85" fill="#0a0a0a"/>
<circle cx="85.40" cy="432.12" r="1.85" fill="#0a0a0a"/>
<circle cx="99.90" cy="361.28" r="1.4000000000000001" fill="#fff" stroke="#0a0a0a" stroke-width="0.95"/>
<circle cx="99.90" cy="377.31" r="1.4000000000000001" fill="#fff" stroke="#0a0a0a" stroke-width="0.95"/>
<circle cx="99.90" cy="426.66" r="1.4000000000000001" fill="#fff" stroke="#0a0a0a" stroke-width="0.95"/>
<circle cx="99.90" cy="431.65" r="1.4000000000000001" fill="#fff" stroke="#0a0a0a" stroke-width="0.95"/>
<text x="59.40" y="458.30" font-size="7.7" text-anchor="middle" fill="#111" stroke="#111" stroke-width="0.28">PDI</text>
<text x="91.30" y="458.30" font-size="7.7" text-anchor="middle" fill="#111" stroke="#111" stroke-width="0.28">calnexin</text>
<text x="12.40" y="402.00" font-size="7.7" text-anchor="middle" fill="#111" stroke="#111" stroke-width="0.28" transform="rotate(-90 12.40 402.00)">particles per cell in %</text>
<text x="22.90" y="402.00" font-size="7.7" text-anchor="middle" fill="#111" stroke="#111" stroke-width="0.28" transform="rotate(-90 22.90 402.00)">norm. to WT</text>
<text x="119.30" y="339.20" font-size="10.2" text-anchor="start" font-weight="bold" fill="#000" stroke="#000" stroke-width="0.3">G</text>
<line x1="156.60" y1="354.10" x2="156.60" y2="448.10" stroke="#111" stroke-width="1"/>
<line x1="156.10" y1="447.60" x2="223.00" y2="447.60" stroke="#111" stroke-width="1"/>
<line x1="153.00" y1="447.60" x2="156.60" y2="447.60" stroke="#111" stroke-width="1"/>
<text x="151.00" y="450.30" font-size="7.7" text-anchor="end" fill="#111" stroke="#111" stroke-width="0.28">95</text>
<line x1="153.00" y1="428.98" x2="156.60" y2="428.98" stroke="#111" stroke-width="1"/>
<text x="151.00" y="431.68" font-size="7.7" text-anchor="end" fill="#111" stroke="#111" stroke-width="0.28">100</text>
<line x1="153.00" y1="410.36" x2="156.60" y2="410.36" stroke="#111" stroke-width="1"/>
<text x="151.00" y="413.06" font-size="7.7" text-anchor="end" fill="#111" stroke="#111" stroke-width="0.28">105</text>
<line x1="153.00" y1="391.74" x2="156.60" y2="391.74" stroke="#111" stroke-width="1"/>
<text x="151.00" y="394.44" font-size="7.7" text-anchor="end" fill="#111" stroke="#111" stroke-width="0.28">110</text>
<line x1="153.00" y1="373.12" x2="156.60" y2="373.12" stroke="#111" stroke-width="1"/>
<text x="151.00" y="375.82" font-size="7.7" text-anchor="end" fill="#111" stroke="#111" stroke-width="0.28">115</text>
<line x1="153.00" y1="354.50" x2="156.60" y2="354.50" stroke="#111" stroke-width="1"/>
<text x="151.00" y="357.20" font-size="7.7" text-anchor="end" fill="#111" stroke="#111" stroke-width="0.28">120</text>
<line x1="173.40" y1="447.60" x2="173.40" y2="451.10" stroke="#111" stroke-width="1"/>
<line x1="205.10" y1="447.60" x2="205.10" y2="451.10" stroke="#111" stroke-width="1"/>
<rect x="160.25" y="429.35" width="11.90" height="18.25" fill="#69696e" stroke="#111" stroke-width="0.9"/>
<rect x="174.55" y="398.07" width="12.60" height="49.53" fill="#d0d0d2" stroke="#111" stroke-width="0.9"/>
<rect x="191.85" y="429.35" width="12.20" height="18.25" fill="#69696e" stroke="#111" stroke-width="0.9"/>
<rect x="206.15" y="409.99" width="12.60" height="37.61" fill="#d0d0d2" stroke="#111" stroke-width="0.9"/>
<line x1="166.10" y1="426.00" x2="166.10" y2="431.96" stroke="#111" stroke-width="0.95"/>
<line x1="163.40" y1="426.00" x2="168.80" y2="426.00" stroke="#111" stroke-width="0.95"/>
<line x1="163.40" y1="431.96" x2="168.80" y2="431.96" stroke="#111" stroke-width="0.95"/>
<line x1="180.80" y1="380.57" x2="180.80" y2="414.08" stroke="#111" stroke-width="0.95"/>
<line x1="178.10" y1="380.57" x2="183.50" y2="380.57" stroke="#111" stroke-width="0.95"/>
<line x1="178.10" y1="414.08" x2="183.50" y2="414.08" stroke="#111" stroke-width="0.95"/>
<line x1="197.90" y1="423.02" x2="197.90" y2="435.31" stroke="#111" stroke-width="0.95"/>
<line x1="195.20" y1="423.02" x2="200.60" y2="423.02" stroke="#111" stroke-width="0.95"/>
<line x1="195.20" y1="435.31" x2="200.60" y2="435.31" stroke="#111" stroke-width="0.95"/>
<line x1="212.40" y1="405.15" x2="212.40" y2="414.08" stroke="#111" stroke-width="0.95"/>
<line x1="209.70" y1="405.15" x2="215.10" y2="405.15" stroke="#111" stroke-width="0.95"/>
<line x1="209.70" y1="414.08" x2="215.10" y2="414.08" stroke="#111" stroke-width="0.95"/>
<circle cx="166.00" cy="422.65" r="1.85" fill="#0a0a0a"/>
<circle cx="163.70" cy="428.24" r="1.85" fill="#0a0a0a"/>
<circle cx="168.60" cy="430.84" r="1.85" fill="#0a0a0a"/>
<circle cx="166.00" cy="434.94" r="1.85" fill="#0a0a0a"/>
<circle cx="180.90" cy="361.95" r="1.4000000000000001" fill="#fff" stroke="#0a0a0a" stroke-width="0.95"/>
<circle cx="180.90" cy="376.84" r="1.4000000000000001" fill="#fff" stroke="#0a0a0a" stroke-width="0.95"/>
<circle cx="180.90" cy="420.04" r="1.4000000000000001" fill="#fff" stroke="#0a0a0a" stroke-width="0.95"/>
<circle cx="180.90" cy="431.96" r="1.4000000000000001" fill="#fff" stroke="#0a0a0a" stroke-width="0.95"/>
<circle cx="197.90" cy="415.95" r="1.85" fill="#0a0a0a"/>
<circle cx="194.90" cy="428.61" r="1.85" fill="#0a0a0a"/>
<circle cx="201.10" cy="430.47" r="1.85" fill="#0a0a0a"/>
<circle cx="197.90" cy="442.39" r="1.85" fill="#0a0a0a"/>
<circle cx="212.50" cy="397.33" r="1.4000000000000001" fill="#fff" stroke="#0a0a0a" stroke-width="0.95"/>
<circle cx="209.80" cy="410.36" r="1.4000000000000001" fill="#fff" stroke="#0a0a0a" stroke-width="0.95"/>
<circle cx="215.10" cy="412.97" r="1.4000000000000001" fill="#fff" stroke="#0a0a0a" stroke-width="0.95"/>
<circle cx="212.50" cy="418.93" r="1.4000000000000001" fill="#fff" stroke="#0a0a0a" stroke-width="0.95"/>
<text x="173.20" y="458.90" font-size="7.7" text-anchor="middle" fill="#111" stroke="#111" stroke-width="0.28">PDI</text>
<text x="205.10" y="458.90" font-size="7.7" text-anchor="middle" fill="#111" stroke="#111" stroke-width="0.28">calnexin</text>
<text x="123.80" y="403.40" font-size="7.7" text-anchor="middle" fill="#111" stroke="#111" stroke-width="0.28" transform="rotate(-90 123.80 403.40)">colocalization in %</text>
<text x="133.40" y="404.20" font-size="7.7" text-anchor="middle" fill="#111" stroke="#111" stroke-width="0.28" transform="rotate(-90 133.40 404.20)">PDI + calnexin norm. to WT</text>
<text x="228.30" y="339.50" font-size="10.2" text-anchor="start" font-weight="bold" fill="#000" stroke="#000" stroke-width="0.3">H</text>
<line x1="264.60" y1="361.90" x2="264.60" y2="448.30" stroke="#111" stroke-width="1"/>
<line x1="264.10" y1="447.80" x2="296.00" y2="447.80" stroke="#111" stroke-width="1"/>
<line x1="261.20" y1="447.80" x2="264.60" y2="447.80" stroke="#111" stroke-width="1"/>
<text x="259.40" y="450.50" font-size="7.7" text-anchor="end" fill="#111" stroke="#111" stroke-width="0.28">0</text>
<line x1="261.20" y1="419.30" x2="264.60" y2="419.30" stroke="#111" stroke-width="1"/>
<text x="260.70" y="422.00" font-size="7.7" text-anchor="end" fill="#111" stroke="#111" stroke-width="0.28">50</text>
<line x1="261.20" y1="390.80" x2="264.60" y2="390.80" stroke="#111" stroke-width="1"/>
<text x="260.70" y="393.50" font-size="7.7" text-anchor="end" fill="#111" stroke="#111" stroke-width="0.28">100</text>
<line x1="261.20" y1="362.30" x2="264.60" y2="362.30" stroke="#111" stroke-width="1"/>
<text x="260.70" y="365.00" font-size="7.7" text-anchor="end" fill="#111" stroke="#111" stroke-width="0.28">150</text>
<line x1="273.40" y1="447.80" x2="273.40" y2="451.30" stroke="#111" stroke-width="1"/>
<line x1="286.60" y1="447.80" x2="286.60" y2="451.30" stroke="#111" stroke-width="1"/>
<rect x="268.15" y="390.80" width="11.40" height="57.00" fill="#69696e" stroke="#111" stroke-width="0.9"/>
<rect x="281.45" y="365.44" width="10.70" height="82.37" fill="#d0d0d2" stroke="#111" stroke-width="0.9"/>
<line x1="273.90" y1="384.53" x2="273.90" y2="397.36" stroke="#111" stroke-width="0.95"/>
<line x1="271.20" y1="384.53" x2="276.60" y2="384.53" stroke="#111" stroke-width="0.95"/>
<line x1="271.20" y1="397.36" x2="276.60" y2="397.36" stroke="#111" stroke-width="0.95"/>
<line x1="286.90" y1="365.04" x2="286.90" y2="365.72" stroke="#111" stroke-width="0.95"/>
<line x1="284.70" y1="365.04" x2="289.10" y2="365.04" stroke="#111" stroke-width="0.95"/>
<line x1="284.70" y1="365.72" x2="289.10" y2="365.72" stroke="#111" stroke-width="0.95"/>
<circle cx="274.10" cy="382.54" r="1.85" fill="#0a0a0a"/>
<circle cx="273.70" cy="384.81" r="1.85" fill="#0a0a0a"/>
<circle cx="273.90" cy="404.19" r="1.85" fill="#0a0a0a"/>
<circle cx="283.00" cy="364.69" r="1.4000000000000001" fill="#fff" stroke="#0a0a0a" stroke-width="0.95"/>
<circle cx="287.00" cy="364.69" r="1.4000000000000001" fill="#fff" stroke="#0a0a0a" stroke-width="0.95"/>
<circle cx="291.00" cy="364.69" r="1.4000000000000001" fill="#fff" stroke="#0a0a0a" stroke-width="0.95"/>
<polyline points="274.20,379.20 274.20,354.30 286.90,354.30 286.90,361.70" fill="none" stroke="#111" stroke-width="0.95"/>
<text x="280.80" y="351.60" font-size="8.6" text-anchor="middle" font-weight="bold" fill="#111" stroke="#111" stroke-width="0.3">*</text>
<text x="274.60" y="458.90" font-size="7.7" text-anchor="middle" fill="#111" stroke="#111" stroke-width="0.28">WT</text>
<text x="287.30" y="458.90" font-size="7.7" text-anchor="middle" fill="#111" stroke="#111" stroke-width="0.28">KO</text>
<text x="235.30" y="404.50" font-size="7.7" text-anchor="middle" fill="#111" stroke="#111" stroke-width="0.28" transform="rotate(-90 235.30 404.50)">colocalization in %</text>
<text x="244.00" y="403.80" font-size="7.7" text-anchor="middle" fill="#111" stroke="#111" stroke-width="0.28" transform="rotate(-90 244.00 403.80)">PDI + &#945;DG norm. to WT (&#945;DG)</text>
<text x="318.20" y="339.50" font-size="10.2" text-anchor="start" font-weight="bold" fill="#000" stroke="#000" stroke-width="0.3">I</text>
<line x1="351.10" y1="361.50" x2="351.10" y2="447.80" stroke="#111" stroke-width="1"/>
<line x1="350.60" y1="447.30" x2="381.60" y2="447.30" stroke="#111" stroke-width="1"/>
<line x1="347.20" y1="447.30" x2="351.10" y2="447.30" stroke="#111" stroke-width="1"/>
<text x="346.60" y="450.00" font-size="7.7" text-anchor="end" fill="#111" stroke="#111" stroke-width="0.28">0.0</text>
<line x1="347.20" y1="430.22" x2="351.10" y2="430.22" stroke="#111" stroke-width="1"/>
<text x="346.60" y="432.92" font-size="7.7" text-anchor="end" fill="#111" stroke="#111" stroke-width="0.28">0.1</text>
<line x1="347.20" y1="413.14" x2="351.10" y2="413.14" stroke="#111" stroke-width="1"/>
<text x="346.60" y="415.84" font-size="7.7" text-anchor="end" fill="#111" stroke="#111" stroke-width="0.28">0.2</text>
<line x1="347.20" y1="396.06" x2="351.10" y2="396.06" stroke="#111" stroke-width="1"/>
<text x="346.60" y="398.76" font-size="7.7" text-anchor="end" fill="#111" stroke="#111" stroke-width="0.28">0.3</text>
<line x1="347.20" y1="378.98" x2="351.10" y2="378.98" stroke="#111" stroke-width="1"/>
<text x="346.60" y="381.68" font-size="7.7" text-anchor="end" fill="#111" stroke="#111" stroke-width="0.28">0.4</text>
<line x1="347.20" y1="361.90" x2="351.10" y2="361.90" stroke="#111" stroke-width="1"/>
<text x="346.60" y="364.60" font-size="7.7" text-anchor="end" fill="#111" stroke="#111" stroke-width="0.28">0.5</text>
<line x1="359.20" y1="447.30" x2="359.20" y2="450.80" stroke="#111" stroke-width="1"/>
<line x1="372.40" y1="447.30" x2="372.40" y2="450.80" stroke="#111" stroke-width="1"/>
<rect x="353.95" y="416.04" width="10.80" height="31.26" fill="#69696e" stroke="#111" stroke-width="0.9"/>
<rect x="366.85" y="387.52" width="11.20" height="59.78" fill="#d0d0d2" stroke="#111" stroke-width="0.9"/>
<line x1="359.40" y1="414.16" x2="359.40" y2="417.92" stroke="#111" stroke-width="0.95"/>
<line x1="357.00" y1="414.16" x2="361.80" y2="414.16" stroke="#111" stroke-width="0.95"/>
<line x1="357.00" y1="417.92" x2="361.80" y2="417.92" stroke="#111" stroke-width="0.95"/>
<line x1="372.50" y1="379.83" x2="372.50" y2="394.35" stroke="#111" stroke-width="0.95"/>
<line x1="369.80" y1="379.83" x2="375.20" y2="379.83" stroke="#111" stroke-width="0.95"/>
<line x1="369.80" y1="394.35" x2="375.20" y2="394.35" stroke="#111" stroke-width="0.95"/>
<circle cx="356.90" cy="413.14" r="1.85" fill="#0a0a0a"/>
<circle cx="361.80" cy="414.85" r="1.85" fill="#0a0a0a"/>
<circle cx="359.50" cy="418.61" r="1.85" fill="#0a0a0a"/>
<circle cx="372.60" cy="377.27" r="1.4000000000000001" fill="#fff" stroke="#0a0a0a" stroke-width="0.95"/>
<circle cx="372.60" cy="382.91" r="1.4000000000000001" fill="#fff" stroke="#0a0a0a" stroke-width="0.95"/>
<circle cx="372.60" cy="402.04" r="1.4000000000000001" fill="#fff" stroke="#0a0a0a" stroke-width="0.95"/>
<polyline points="359.20,406.30 359.20,367.10 372.60,367.10 372.60,374.20" fill="none" stroke="#111" stroke-width="0.95"/>
<text x="365.90" y="364.70" font-size="8.6" text-anchor="middle" font-weight="bold" fill="#111" stroke="#111" stroke-width="0.3">*</text>
<text x="360.20" y="458.90" font-size="7.7" text-anchor="middle" fill="#111" stroke="#111" stroke-width="0.28">WT</text>
<text x="373.30" y="458.90" font-size="7.7" text-anchor="middle" fill="#111" stroke="#111" stroke-width="0.28">KO</text>
<text x="321.40" y="405.40" font-size="7.85" text-anchor="middle" fill="#111" stroke="#111" stroke-width="0.28" transform="rotate(-90 321.40 405.40)">Pearson colocalization</text>
<text x="331.30" y="405.40" font-size="7.85" text-anchor="middle" fill="#111" stroke="#111" stroke-width="0.28" transform="rotate(-90 331.30 405.40)">coefficent PDI + &#945;DG</text>
<text x="394.50" y="339.50" font-size="10.2" text-anchor="start" font-weight="bold" fill="#000" stroke="#000" stroke-width="0.3">J</text>
<line x1="426.00" y1="361.60" x2="426.00" y2="448.00" stroke="#111" stroke-width="1"/>
<line x1="425.50" y1="447.50" x2="457.20" y2="447.50" stroke="#111" stroke-width="1"/>
<line x1="422.60" y1="447.50" x2="426.00" y2="447.50" stroke="#111" stroke-width="1"/>
<text x="421.30" y="450.20" font-size="7.7" text-anchor="end" fill="#111" stroke="#111" stroke-width="0.28">0.0</text>
<line x1="422.60" y1="430.40" x2="426.00" y2="430.40" stroke="#111" stroke-width="1"/>
<text x="421.30" y="433.10" font-size="7.7" text-anchor="end" fill="#111" stroke="#111" stroke-width="0.28">0.2</text>
<line x1="422.60" y1="413.30" x2="426.00" y2="413.30" stroke="#111" stroke-width="1"/>
<text x="421.30" y="416.00" font-size="7.7" text-anchor="end" fill="#111" stroke="#111" stroke-width="0.28">0.4</text>
<line x1="422.60" y1="396.20" x2="426.00" y2="396.20" stroke="#111" stroke-width="1"/>
<text x="421.30" y="398.90" font-size="7.7" text-anchor="end" fill="#111" stroke="#111" stroke-width="0.28">0.6</text>
<line x1="422.60" y1="379.10" x2="426.00" y2="379.10" stroke="#111" stroke-width="1"/>
<text x="421.30" y="381.80" font-size="7.7" text-anchor="end" fill="#111" stroke="#111" stroke-width="0.28">0.8</text>
<line x1="422.60" y1="362.00" x2="426.00" y2="362.00" stroke="#111" stroke-width="1"/>
<text x="421.30" y="364.70" font-size="7.7" text-anchor="end" fill="#111" stroke="#111" stroke-width="0.28">1.0</text>
<line x1="434.20" y1="447.50" x2="434.20" y2="451.00" stroke="#111" stroke-width="1"/>
<line x1="447.50" y1="447.50" x2="447.50" y2="451.00" stroke="#111" stroke-width="1"/>
<rect x="428.75" y="411.59" width="11.40" height="35.91" fill="#69696e" stroke="#111" stroke-width="0.9"/>
<rect x="442.45" y="375.25" width="11.30" height="72.25" fill="#d0d0d2" stroke="#111" stroke-width="0.9"/>
<line x1="434.50" y1="404.75" x2="434.50" y2="417.57" stroke="#111" stroke-width="0.95"/>
<line x1="431.80" y1="404.75" x2="437.20" y2="404.75" stroke="#111" stroke-width="0.95"/>
<line x1="431.80" y1="417.57" x2="437.20" y2="417.57" stroke="#111" stroke-width="0.95"/>
<line x1="447.70" y1="367.99" x2="447.70" y2="382.09" stroke="#111" stroke-width="0.95"/>
<line x1="445.00" y1="367.99" x2="450.40" y2="367.99" stroke="#111" stroke-width="0.95"/>
<line x1="445.00" y1="382.09" x2="450.40" y2="382.09" stroke="#111" stroke-width="0.95"/>
<circle cx="434.50" cy="399.62" r="1.85" fill="#0a0a0a"/>
<circle cx="434.50" cy="413.30" r="1.85" fill="#0a0a0a"/>
<circle cx="434.50" cy="421.00" r="1.85" fill="#0a0a0a"/>
<circle cx="447.70" cy="365.85" r="1.4000000000000001" fill="#fff" stroke="#0a0a0a" stroke-width="0.95"/>
<circle cx="447.70" cy="368.41" r="1.4000000000000001" fill="#fff" stroke="#0a0a0a" stroke-width="0.95"/>
<circle cx="447.70" cy="389.79" r="1.4000000000000001" fill="#fff" stroke="#0a0a0a" stroke-width="0.95"/>
<polyline points="434.20,395.80 434.20,356.00 447.70,356.00 447.70,362.40" fill="none" stroke="#111" stroke-width="0.95"/>
<text x="441.00" y="354.00" font-size="8.6" text-anchor="middle" font-weight="bold" fill="#111" stroke="#111" stroke-width="0.3">*</text>
<text x="433.80" y="458.90" font-size="7.7" text-anchor="middle" fill="#111" stroke="#111" stroke-width="0.28">WT</text>
<text x="448.30" y="458.90" font-size="7.7" text-anchor="middle" fill="#111" stroke="#111" stroke-width="0.28">KO</text>
<text x="400.60" y="405.20" font-size="7.7" text-anchor="middle" fill="#111" stroke="#111" stroke-width="0.28" transform="rotate(-90 400.60 405.20)">Manderson colocalization</text>
<text x="408.10" y="404.00" font-size="7.7" text-anchor="middle" fill="#111" stroke="#111" stroke-width="0.28" transform="rotate(-90 408.10 404.00)">coefficent PDI + &#945;DG (&#945;DG)</text>
</svg>
</body></html>
